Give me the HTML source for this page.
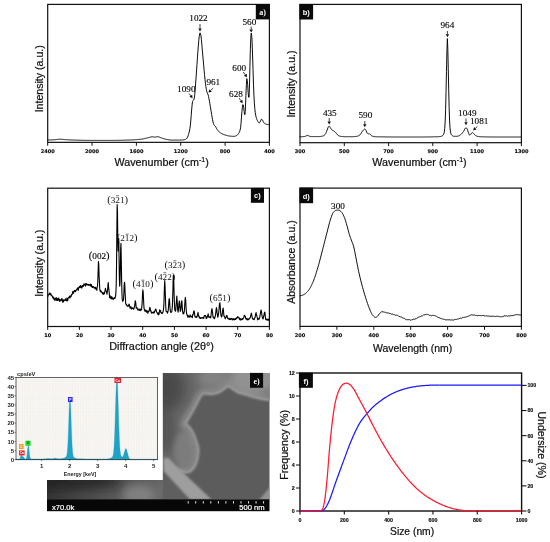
<!DOCTYPE html>
<html lang="en"><head><meta charset="utf-8"><title>Figure</title>
<style>html,body{margin:0;padding:0;background:#fff}svg{display:block}</style></head>
<body>
<svg width="550" height="542" viewBox="0 0 550 542">
<rect width="550" height="542" fill="#fff"/>
<polyline points="47.50,140.00 47.94,140.00 48.39,139.99 48.83,139.98 49.28,139.97 49.72,139.96 50.17,139.94 50.61,139.93 51.06,139.91 51.50,139.89 51.95,139.87 52.39,139.85 52.84,139.82 53.28,139.80 53.73,139.77 54.17,139.75 54.62,139.72 55.06,139.69 55.51,139.66 55.95,139.61 56.40,139.56 56.84,139.50 57.29,139.44 57.73,139.38 58.18,139.32 58.62,139.27 59.07,139.23 59.51,139.20 59.96,139.19 60.40,139.20 60.85,139.22 61.29,139.24 61.74,139.27 62.18,139.32 62.63,139.36 63.07,139.41 63.52,139.46 63.96,139.51 64.41,139.56 64.85,139.60 65.30,139.65 65.74,139.68 66.19,139.71 66.63,139.73 67.08,139.76 67.52,139.78 67.96,139.81 68.41,139.83 68.85,139.86 69.30,139.88 69.74,139.90 70.19,139.92 70.63,139.94 71.08,139.96 71.52,139.98 71.97,140.00 72.41,140.01 72.86,140.03 73.30,140.05 73.75,140.06 74.19,140.08 74.64,140.09 75.08,140.10 75.53,140.12 75.97,140.13 76.42,140.14 76.86,140.15 77.31,140.17 77.75,140.18 78.20,140.19 78.64,140.21 79.09,140.22 79.53,140.23 79.98,140.24 80.42,140.25 80.87,140.27 81.31,140.28 81.76,140.29 82.20,140.30 82.65,140.31 83.09,140.32 83.54,140.33 83.98,140.34 84.43,140.35 84.87,140.35 85.32,140.36 85.76,140.37 86.21,140.38 86.65,140.38 87.10,140.39 87.54,140.39 87.98,140.39 88.43,140.40 88.87,140.40 89.32,140.40 89.76,140.40 90.21,140.40 90.65,140.40 91.10,140.40 91.54,140.40 91.99,140.40 92.43,140.40 92.88,140.40 93.32,140.40 93.77,140.40 94.21,140.40 94.66,140.40 95.10,140.40 95.55,140.40 95.99,140.40 96.44,140.40 96.88,140.40 97.33,140.40 97.77,140.40 98.22,140.40 98.66,140.40 99.11,140.40 99.55,140.40 100.00,140.40 100.44,140.40 100.89,140.40 101.33,140.40 101.78,140.40 102.22,140.40 102.67,140.40 103.11,140.40 103.56,140.40 104.00,140.40 104.45,140.40 104.89,140.40 105.34,140.40 105.78,140.40 106.23,140.40 106.67,140.40 107.12,140.40 107.56,140.40 108.01,140.40 108.45,140.40 108.89,140.40 109.34,140.40 109.78,140.40 110.23,140.40 110.67,140.40 111.12,140.40 111.56,140.40 112.01,140.40 112.45,140.40 112.90,140.39 113.34,140.39 113.79,140.38 114.23,140.38 114.68,140.38 115.12,140.37 115.57,140.36 116.01,140.36 116.46,140.35 116.90,140.34 117.35,140.34 117.79,140.33 118.24,140.32 118.68,140.31 119.13,140.30 119.57,140.29 120.02,140.28 120.46,140.27 120.91,140.26 121.35,140.25 121.80,140.24 122.24,140.23 122.69,140.22 123.13,140.21 123.58,140.20 124.02,140.18 124.47,140.17 124.91,140.16 125.36,140.15 125.80,140.13 126.25,140.12 126.69,140.11 127.14,140.09 127.58,140.08 128.03,140.06 128.47,140.05 128.91,140.04 129.36,140.02 129.80,140.01 130.25,139.99 130.69,139.98 131.14,139.96 131.58,139.94 132.03,139.92 132.47,139.90 132.92,139.87 133.36,139.85 133.81,139.82 134.25,139.80 134.70,139.77 135.14,139.74 135.59,139.70 136.03,139.67 136.48,139.64 136.92,139.60 137.37,139.56 137.81,139.53 138.26,139.49 138.70,139.44 139.15,139.40 139.59,139.36 140.04,139.31 140.48,139.26 140.93,139.22 141.37,139.17 141.82,139.11 142.26,139.06 142.71,138.99 143.15,138.92 143.60,138.83 144.04,138.74 144.49,138.64 144.93,138.53 145.38,138.42 145.82,138.31 146.27,138.20 146.71,138.09 147.16,137.98 147.60,137.87 148.05,137.77 148.49,137.66 148.93,137.54 149.38,137.41 149.82,137.28 150.27,137.15 150.71,137.03 151.16,136.93 151.60,136.85 152.05,136.80 152.49,136.78 152.94,136.81 153.38,136.89 153.83,137.00 154.27,137.10 154.72,137.16 155.16,137.17 155.61,137.10 156.05,136.99 156.50,136.85 156.94,136.74 157.39,136.68 157.83,136.69 158.28,136.77 158.72,136.90 159.17,137.06 159.61,137.24 160.06,137.43 160.50,137.61 160.95,137.77 161.39,137.91 161.84,138.05 162.28,138.20 162.73,138.36 163.17,138.51 163.62,138.65 164.06,138.80 164.51,138.93 164.95,139.05 165.40,139.17 165.84,139.26 166.29,139.35 166.73,139.43 167.18,139.52 167.62,139.60 168.07,139.68 168.51,139.76 168.95,139.83 169.40,139.90 169.84,139.96 170.29,140.01 170.73,140.05 171.18,140.08 171.62,140.10 172.07,140.10 172.51,140.10 172.96,140.10 173.40,140.10 173.85,140.10 174.29,140.10 174.74,140.10 175.18,140.10 175.63,140.10 176.07,140.10 176.52,140.10 176.96,140.10 177.41,140.10 177.85,140.10 178.30,140.10 178.74,140.10 179.19,140.10 179.63,140.10 180.08,140.10 180.52,140.09 180.97,140.08 181.41,140.06 181.86,140.03 182.30,139.99 182.75,139.95 183.19,139.90 183.64,139.85 184.08,139.79 184.53,139.70 184.97,139.56 185.42,139.39 185.86,139.17 186.31,138.88 186.75,138.40 187.20,137.78 187.64,137.01 188.09,135.90 188.53,134.47 188.97,132.84 189.42,131.04 189.86,128.81 190.31,125.84 190.75,121.06 191.20,115.62 191.64,110.01 192.09,105.23 192.53,101.63 192.98,100.65 193.42,100.32 193.87,99.53 194.31,97.92 194.76,94.53 195.20,89.21 195.65,83.06 196.09,77.14 196.54,70.96 196.98,64.36 197.43,57.80 197.87,51.72 198.32,46.17 198.76,40.83 199.21,36.65 199.65,33.85 200.10,32.85 200.54,33.99 200.99,36.00 201.43,39.81 201.88,44.88 202.32,50.18 202.77,55.03 203.21,60.09 203.66,65.23 204.10,70.20 204.55,74.76 204.99,79.11 205.44,83.22 205.88,86.65 206.33,89.27 206.77,91.45 207.22,92.99 207.66,93.80 208.11,94.76 208.55,96.51 208.99,98.78 209.44,101.19 209.88,103.66 210.33,106.38 210.77,109.20 211.22,111.96 211.66,114.55 212.11,117.20 212.55,119.75 213.00,121.91 213.44,123.48 213.89,124.73 214.33,125.44 214.78,125.76 215.22,126.12 215.67,126.77 216.11,127.61 216.56,128.49 217.00,129.22 217.45,129.83 217.89,130.40 218.34,130.95 218.78,131.45 219.23,131.90 219.67,132.29 220.12,132.63 220.56,132.92 221.01,133.19 221.45,133.44 221.90,133.67 222.34,133.88 222.79,134.08 223.23,134.27 223.68,134.44 224.12,134.60 224.57,134.77 225.01,134.92 225.46,135.08 225.90,135.23 226.35,135.37 226.79,135.50 227.24,135.62 227.68,135.73 228.13,135.83 228.57,135.91 229.02,135.97 229.46,136.03 229.90,136.08 230.35,136.13 230.79,136.18 231.24,136.23 231.68,136.27 232.13,136.30 232.57,136.33 233.02,136.35 233.46,136.37 233.91,136.37 234.35,136.35 234.80,136.27 235.24,136.14 235.69,135.96 236.13,135.75 236.58,135.51 237.02,135.25 237.47,134.92 237.91,134.45 238.36,133.87 238.80,133.16 239.25,132.35 239.69,131.33 240.14,129.88 240.58,127.81 241.03,123.38 241.47,117.18 241.92,111.75 242.36,106.94 242.81,104.68 243.25,104.86 243.70,107.16 244.14,111.59 244.59,114.49 245.03,114.60 245.48,107.11 245.92,95.29 246.37,84.89 246.81,78.64 247.26,80.52 247.70,84.80 248.15,92.55 248.59,97.08 249.04,97.39 249.48,86.01 249.92,66.51 250.37,49.49 250.81,37.25 251.26,33.05 251.70,35.68 252.15,42.77 252.59,55.97 253.04,69.59 253.48,84.13 253.93,95.10 254.37,103.12 254.82,108.74 255.26,112.49 255.71,115.29 256.15,117.20 256.60,118.63 257.04,119.75 257.49,120.63 257.93,121.43 258.38,122.18 258.82,122.73 259.27,122.97 259.71,122.64 260.16,121.82 260.60,120.96 261.05,119.82 261.49,119.14 261.94,119.41 262.38,119.99 262.83,120.72 263.27,121.72 263.72,122.56 264.16,123.05 264.61,123.45 265.05,123.76 265.50,123.98 265.94,124.14 266.39,124.26 266.83,124.37 267.28,124.45 267.72,124.52 268.17,124.57 268.61,124.63 269.06,124.66 269.50,124.69" fill="none" stroke="#000" stroke-width="0.95" stroke-linejoin="round" stroke-linecap="round" />
<rect x="47.7" y="4.4" width="221.7" height="137.95" fill="none" stroke="#111" stroke-width="1.2"/>
<line x1="47.7" y1="142.35" x2="47.7" y2="145.75" stroke="#111" stroke-width="1"/>
<text x="47.7" y="152.6" text-anchor="middle" font-family='"DejaVu Sans", "Liberation Sans", sans-serif' font-weight="bold" font-size="5.05" fill="#111" stroke="#111" stroke-width="0.15">2400</text>
<line x1="92.0" y1="142.35" x2="92.0" y2="145.75" stroke="#111" stroke-width="1"/>
<text x="92.0" y="152.6" text-anchor="middle" font-family='"DejaVu Sans", "Liberation Sans", sans-serif' font-weight="bold" font-size="5.05" fill="#111" stroke="#111" stroke-width="0.15">2000</text>
<line x1="136.4" y1="142.35" x2="136.4" y2="145.75" stroke="#111" stroke-width="1"/>
<text x="136.4" y="152.6" text-anchor="middle" font-family='"DejaVu Sans", "Liberation Sans", sans-serif' font-weight="bold" font-size="5.05" fill="#111" stroke="#111" stroke-width="0.15">1600</text>
<line x1="180.7" y1="142.35" x2="180.7" y2="145.75" stroke="#111" stroke-width="1"/>
<text x="180.7" y="152.6" text-anchor="middle" font-family='"DejaVu Sans", "Liberation Sans", sans-serif' font-weight="bold" font-size="5.05" fill="#111" stroke="#111" stroke-width="0.15">1200</text>
<line x1="225.1" y1="142.35" x2="225.1" y2="145.75" stroke="#111" stroke-width="1"/>
<text x="225.1" y="152.6" text-anchor="middle" font-family='"DejaVu Sans", "Liberation Sans", sans-serif' font-weight="bold" font-size="5.05" fill="#111" stroke="#111" stroke-width="0.15">800</text>
<line x1="269.4" y1="142.35" x2="269.4" y2="145.75" stroke="#111" stroke-width="1"/>
<text x="269.4" y="152.6" text-anchor="middle" font-family='"DejaVu Sans", "Liberation Sans", sans-serif' font-weight="bold" font-size="5.05" fill="#111" stroke="#111" stroke-width="0.15">400</text>
<text x="161.6" y="165.6" text-anchor="middle" font-family='"Liberation Sans", sans-serif' font-size="10.75" fill="#111" stroke="#111" stroke-width="0.22">Wavenumber (cm<tspan font-size="7" dy="-3.5">-1</tspan><tspan dy="3.5">)</tspan></text>
<text x="43.4" y="78.8" text-anchor="middle" font-family='"Liberation Sans", sans-serif' font-weight="normal" font-size="10.6" fill="#111" transform="rotate(-90 43.4 78.8)" stroke="#111" stroke-width="0.22">Intensity (a.u.)</text>
<text x="198.5" y="21.3" text-anchor="middle" font-family='"Liberation Serif", serif' font-weight="normal" font-size="9.2" fill="#000" stroke="#000" stroke-width="0.12">1022</text>
<line x1="200.00" y1="24.00" x2="200.00" y2="28.50" stroke="#111" stroke-width="0.8"/>
<polygon points="200.00,31.50 198.30,28.50 201.70,28.50" fill="#111"/>
<text x="249.4" y="24.6" text-anchor="middle" font-family='"Liberation Serif", serif' font-weight="normal" font-size="9.2" fill="#000" stroke="#000" stroke-width="0.12">560</text>
<line x1="251.20" y1="26.50" x2="251.20" y2="29.50" stroke="#111" stroke-width="0.8"/>
<polygon points="251.20,32.50 249.50,29.50 252.90,29.50" fill="#111"/>
<text x="239.2" y="71.0" text-anchor="middle" font-family='"Liberation Serif", serif' font-weight="normal" font-size="9.2" fill="#000" stroke="#000" stroke-width="0.12">600</text>
<line x1="243.30" y1="72.00" x2="245.28" y2="74.84" stroke="#111" stroke-width="0.8"/>
<polygon points="247.00,77.30 243.89,75.81 246.68,73.87" fill="#111"/>
<text x="213.3" y="85.4" text-anchor="middle" font-family='"Liberation Serif", serif' font-weight="normal" font-size="9.2" fill="#000" stroke="#000" stroke-width="0.12">961</text>
<line x1="213.20" y1="88.00" x2="210.64" y2="90.50" stroke="#111" stroke-width="0.8"/>
<polygon points="208.50,92.60 209.45,89.29 211.83,91.72" fill="#111"/>
<text x="186.3" y="91.8" text-anchor="middle" font-family='"Liberation Serif", serif' font-weight="normal" font-size="9.2" fill="#000" stroke="#000" stroke-width="0.12">1090</text>
<line x1="189.00" y1="93.50" x2="190.78" y2="95.82" stroke="#111" stroke-width="0.8"/>
<polygon points="192.60,98.20 189.43,96.85 192.13,94.78" fill="#111"/>
<text x="236.0" y="96.6" text-anchor="middle" font-family='"Liberation Serif", serif' font-weight="normal" font-size="9.2" fill="#000" stroke="#000" stroke-width="0.12">628</text>
<line x1="239.00" y1="98.00" x2="240.96" y2="100.76" stroke="#111" stroke-width="0.8"/>
<polygon points="242.70,103.20 239.58,101.74 242.35,99.77" fill="#111"/>
<rect x="255.8" y="4" width="13.7" height="15.4" fill="#0a0a0a"/>
<text x="262.7" y="14.7" text-anchor="middle" font-family='"Liberation Serif", serif' font-weight="bold" font-size="8" fill="#fff">a)</text>
<polyline points="300.00,136.80 300.44,136.80 300.89,136.79 301.33,136.78 301.78,136.76 302.22,136.73 302.66,136.71 303.11,136.68 303.55,136.64 303.99,136.60 304.44,136.53 304.88,136.40 305.33,136.25 305.77,136.08 306.21,135.91 306.66,135.66 307.10,135.45 307.55,135.41 307.99,135.54 308.43,135.75 308.88,135.96 309.32,136.12 309.77,136.29 310.21,136.46 310.65,136.57 311.10,136.60 311.54,136.60 311.98,136.60 312.43,136.60 312.87,136.60 313.32,136.60 313.76,136.60 314.20,136.60 314.65,136.60 315.09,136.60 315.54,136.60 315.98,136.60 316.42,136.60 316.87,136.60 317.31,136.60 317.76,136.60 318.20,136.60 318.64,136.59 319.09,136.57 319.53,136.54 319.97,136.50 320.42,136.45 320.86,136.39 321.31,136.33 321.75,136.25 322.19,136.17 322.64,136.08 323.08,135.98 323.53,135.81 323.97,135.54 324.41,135.18 324.86,134.74 325.30,134.24 325.75,133.61 326.19,132.58 326.63,131.32 327.08,130.06 327.52,128.93 327.96,127.70 328.41,126.77 328.85,126.50 329.30,126.40 329.74,126.66 330.18,127.46 330.63,128.18 331.07,128.86 331.52,129.49 331.96,129.97 332.40,130.25 332.85,130.44 333.29,130.64 333.74,130.88 334.18,131.19 334.62,131.52 335.07,131.90 335.51,132.31 335.95,132.83 336.40,133.45 336.84,134.08 337.29,134.61 337.73,134.98 338.17,135.31 338.62,135.61 339.06,135.86 339.51,136.06 339.95,136.19 340.39,136.27 340.84,136.34 341.28,136.41 341.73,136.47 342.17,136.53 342.61,136.58 343.06,136.62 343.50,136.65 343.94,136.67 344.39,136.69 344.83,136.70 345.28,136.70 345.72,136.70 346.16,136.70 346.61,136.70 347.05,136.70 347.50,136.70 347.94,136.70 348.38,136.70 348.83,136.70 349.27,136.70 349.72,136.70 350.16,136.70 350.60,136.70 351.05,136.70 351.49,136.70 351.93,136.70 352.38,136.70 352.82,136.69 353.27,136.67 353.71,136.65 354.15,136.62 354.60,136.58 355.04,136.54 355.49,136.50 355.93,136.44 356.37,136.39 356.82,136.33 357.26,136.25 357.71,136.13 358.15,135.95 358.59,135.74 359.04,135.48 359.48,135.18 359.92,134.86 360.37,134.42 360.81,133.76 361.26,133.00 361.70,132.25 362.14,131.60 362.59,130.99 363.03,130.41 363.48,129.92 363.92,129.49 364.36,129.11 364.81,129.01 365.25,129.32 365.70,129.86 366.14,130.68 366.58,131.91 367.03,132.84 367.47,133.40 367.91,133.81 368.36,133.89 368.80,133.79 369.25,133.70 369.69,133.88 370.13,134.33 370.58,134.77 371.02,135.20 371.47,135.64 371.91,135.96 372.35,136.13 372.80,136.28 373.24,136.41 373.69,136.52 374.13,136.61 374.57,136.67 375.02,136.70 375.46,136.72 375.90,136.74 376.35,136.75 376.79,136.77 377.24,136.78 377.68,136.79 378.12,136.80 378.57,136.81 379.01,136.82 379.46,136.83 379.90,136.84 380.34,136.85 380.79,136.85 381.23,136.86 381.68,136.87 382.12,136.87 382.56,136.88 383.01,136.88 383.45,136.88 383.89,136.89 384.34,136.89 384.78,136.90 385.23,136.90 385.67,136.91 386.11,136.91 386.56,136.92 387.00,136.92 387.45,136.92 387.89,136.93 388.33,136.93 388.78,136.94 389.22,136.94 389.67,136.95 390.11,136.95 390.55,136.95 391.00,136.96 391.44,136.96 391.88,136.96 392.33,136.97 392.77,136.97 393.22,136.97 393.66,136.98 394.10,136.98 394.55,136.98 394.99,136.99 395.44,136.99 395.88,136.99 396.32,136.99 396.77,136.99 397.21,137.00 397.66,137.00 398.10,137.00 398.54,137.00 398.99,137.00 399.43,137.00 399.87,137.00 400.32,137.00 400.76,137.00 401.21,137.00 401.65,137.00 402.09,137.00 402.54,137.00 402.98,137.00 403.43,137.00 403.87,137.00 404.31,137.00 404.76,137.00 405.20,137.00 405.65,137.00 406.09,137.00 406.53,137.00 406.98,137.00 407.42,137.00 407.86,137.00 408.31,137.00 408.75,137.00 409.20,137.00 409.64,137.00 410.08,137.00 410.53,137.00 410.97,137.00 411.42,137.00 411.86,137.00 412.30,137.00 412.75,137.00 413.19,137.00 413.64,137.00 414.08,137.00 414.52,137.00 414.97,137.00 415.41,137.00 415.85,137.00 416.30,137.00 416.74,137.00 417.19,137.00 417.63,137.00 418.07,137.00 418.52,137.00 418.96,137.00 419.41,137.00 419.85,137.00 420.29,137.00 420.74,137.00 421.18,137.00 421.63,137.00 422.07,137.00 422.51,136.99 422.96,136.99 423.40,136.99 423.84,136.98 424.29,136.98 424.73,136.98 425.18,136.97 425.62,136.97 426.06,136.96 426.51,136.96 426.95,136.95 427.40,136.95 427.84,136.94 428.28,136.93 428.73,136.93 429.17,136.92 429.62,136.91 430.06,136.90 430.50,136.90 430.95,136.89 431.39,136.88 431.83,136.87 432.28,136.86 432.72,136.85 433.17,136.84 433.61,136.83 434.05,136.82 434.50,136.81 434.94,136.80 435.39,136.79 435.83,136.78 436.27,136.77 436.72,136.75 437.16,136.73 437.61,136.72 438.05,136.69 438.49,136.67 438.94,136.64 439.38,136.61 439.82,136.57 440.27,136.52 440.71,136.47 441.16,136.37 441.60,136.21 442.04,135.98 442.49,135.70 442.93,135.36 443.38,134.81 443.82,133.76 444.26,132.16 444.71,128.57 445.15,121.87 445.60,109.80 446.04,91.71 446.48,71.54 446.93,50.45 447.37,38.58 447.81,48.45 448.26,68.50 448.70,89.24 449.15,107.62 449.59,120.82 450.03,127.85 450.48,131.90 450.92,133.53 451.37,134.61 451.81,135.21 452.25,135.57 452.70,135.88 453.14,136.11 453.59,136.25 454.03,136.30 454.47,136.30 454.92,136.30 455.36,136.30 455.80,136.30 456.25,136.30 456.69,136.30 457.14,136.30 457.58,136.24 458.02,136.13 458.47,135.97 458.91,135.77 459.36,135.55 459.80,135.31 460.24,135.04 460.69,134.65 461.13,134.17 461.58,133.66 462.02,133.18 462.46,132.75 462.91,132.32 463.35,131.83 463.79,131.17 464.24,130.16 464.68,129.19 465.13,128.52 465.57,127.94 466.01,127.70 466.46,127.95 466.90,128.53 467.35,129.29 467.79,130.68 468.23,132.27 468.68,133.40 469.12,134.40 469.57,135.09 470.01,135.14 470.45,134.69 470.90,134.12 471.34,133.55 471.78,132.89 472.23,132.51 472.67,132.63 473.12,133.02 473.56,133.46 474.00,133.92 474.45,134.45 474.89,134.98 475.34,135.39 475.78,135.65 476.22,135.87 476.67,136.06 477.11,136.23 477.56,136.38 478.00,136.49 478.44,136.57 478.89,136.62 479.33,136.65 479.77,136.69 480.22,136.72 480.66,136.75 481.11,136.77 481.55,136.80 481.99,136.82 482.44,136.84 482.88,136.85 483.33,136.87 483.77,136.88 484.21,136.89 484.66,136.90 485.10,136.90 485.55,136.91 485.99,136.91 486.43,136.92 486.88,136.92 487.32,136.93 487.76,136.93 488.21,136.94 488.65,136.94 489.10,136.95 489.54,136.95 489.98,136.95 490.43,136.96 490.87,136.96 491.32,136.97 491.76,136.97 492.20,136.97 492.65,136.98 493.09,136.98 493.54,136.98 493.98,136.98 494.42,136.99 494.87,136.99 495.31,136.99 495.75,136.99 496.20,136.99 496.64,136.99 497.09,137.00 497.53,137.00 497.97,137.00 498.42,137.00 498.86,137.00 499.31,137.00 499.75,137.00 500.19,137.00 500.64,137.00 501.08,137.00 501.53,137.00 501.97,137.00 502.41,137.00 502.86,137.00 503.30,137.00 503.74,137.00 504.19,137.00 504.63,137.00 505.08,137.00 505.52,137.00 505.96,137.00 506.41,137.00 506.85,137.00 507.30,137.00 507.74,137.00 508.18,137.00 508.63,137.00 509.07,137.00 509.52,137.00 509.96,137.00 510.40,137.00 510.85,137.00 511.29,137.00 511.73,137.00 512.18,137.00 512.62,137.00 513.07,137.00 513.51,137.00 513.95,137.00 514.40,137.00 514.84,137.00 515.29,137.00 515.73,137.00 516.17,137.00 516.62,137.00 517.06,137.00 517.51,137.00 517.95,137.00 518.39,137.00 518.84,137.00 519.28,137.00 519.72,137.00 520.17,137.00 520.61,137.00 521.06,137.00 521.50,137.00" fill="none" stroke="#000" stroke-width="0.95" stroke-linejoin="round" stroke-linecap="round" />
<rect x="300" y="4.4" width="221.39999999999998" height="138.29999999999998" fill="none" stroke="#111" stroke-width="1.2"/>
<line x1="300.0" y1="142.7" x2="300.0" y2="146.1" stroke="#111" stroke-width="1"/>
<text x="300.0" y="152.6" text-anchor="middle" font-family='"DejaVu Sans", "Liberation Sans", sans-serif' font-weight="bold" font-size="5.05" fill="#111" stroke="#111" stroke-width="0.15">300</text>
<line x1="344.3" y1="142.7" x2="344.3" y2="146.1" stroke="#111" stroke-width="1"/>
<text x="344.3" y="152.6" text-anchor="middle" font-family='"DejaVu Sans", "Liberation Sans", sans-serif' font-weight="bold" font-size="5.05" fill="#111" stroke="#111" stroke-width="0.15">500</text>
<line x1="388.6" y1="142.7" x2="388.6" y2="146.1" stroke="#111" stroke-width="1"/>
<text x="388.6" y="152.6" text-anchor="middle" font-family='"DejaVu Sans", "Liberation Sans", sans-serif' font-weight="bold" font-size="5.05" fill="#111" stroke="#111" stroke-width="0.15">700</text>
<line x1="432.8" y1="142.7" x2="432.8" y2="146.1" stroke="#111" stroke-width="1"/>
<text x="432.8" y="152.6" text-anchor="middle" font-family='"DejaVu Sans", "Liberation Sans", sans-serif' font-weight="bold" font-size="5.05" fill="#111" stroke="#111" stroke-width="0.15">900</text>
<line x1="477.1" y1="142.7" x2="477.1" y2="146.1" stroke="#111" stroke-width="1"/>
<text x="477.1" y="152.6" text-anchor="middle" font-family='"DejaVu Sans", "Liberation Sans", sans-serif' font-weight="bold" font-size="5.05" fill="#111" stroke="#111" stroke-width="0.15">1100</text>
<line x1="521.4" y1="142.7" x2="521.4" y2="146.1" stroke="#111" stroke-width="1"/>
<text x="521.4" y="152.6" text-anchor="middle" font-family='"DejaVu Sans", "Liberation Sans", sans-serif' font-weight="bold" font-size="5.05" fill="#111" stroke="#111" stroke-width="0.15">1300</text>
<text x="419.5" y="165.5" text-anchor="middle" font-family='"Liberation Sans", sans-serif' font-size="10.75" fill="#111" stroke="#111" stroke-width="0.22">Wavenumber (cm<tspan font-size="7" dy="-3.5">-1</tspan><tspan dy="3.5">)</tspan></text>
<text x="295.4" y="84.0" text-anchor="middle" font-family='"Liberation Sans", sans-serif' font-weight="normal" font-size="10.6" fill="#111" transform="rotate(-90 295.4 84.0)" stroke="#111" stroke-width="0.22">Intensity (a.u.)</text>
<text x="329.8" y="116.0" text-anchor="middle" font-family='"Liberation Serif", serif' font-weight="normal" font-size="9.2" fill="#000" stroke="#000" stroke-width="0.12">435</text>
<line x1="329.20" y1="118.00" x2="329.20" y2="121.60" stroke="#111" stroke-width="0.8"/>
<polygon points="329.20,124.60 327.50,121.60 330.90,121.60" fill="#111"/>
<text x="365.4" y="118.4" text-anchor="middle" font-family='"Liberation Serif", serif' font-weight="normal" font-size="9.2" fill="#000" stroke="#000" stroke-width="0.12">590</text>
<line x1="364.80" y1="121.00" x2="364.80" y2="124.30" stroke="#111" stroke-width="0.8"/>
<polygon points="364.80,127.30 363.10,124.30 366.50,124.30" fill="#111"/>
<text x="447.4" y="28.0" text-anchor="middle" font-family='"Liberation Serif", serif' font-weight="normal" font-size="9.2" fill="#000" stroke="#000" stroke-width="0.12">964</text>
<line x1="447.40" y1="31.00" x2="447.40" y2="34.30" stroke="#111" stroke-width="0.8"/>
<polygon points="447.40,37.30 445.70,34.30 449.10,34.30" fill="#111"/>
<text x="467.3" y="116.4" text-anchor="middle" font-family='"Liberation Serif", serif' font-weight="normal" font-size="9.2" fill="#000" stroke="#000" stroke-width="0.12">1049</text>
<line x1="466.00" y1="118.50" x2="466.00" y2="122.30" stroke="#111" stroke-width="0.8"/>
<polygon points="466.00,125.30 464.30,122.30 467.70,122.30" fill="#111"/>
<text x="479.2" y="124.3" text-anchor="middle" font-family='"Liberation Serif", serif' font-weight="normal" font-size="9.2" fill="#000" stroke="#000" stroke-width="0.12">1081</text>
<line x1="477.40" y1="126.40" x2="475.30" y2="128.36" stroke="#111" stroke-width="0.8"/>
<polygon points="473.10,130.40 474.14,127.11 476.45,129.60" fill="#111"/>
<rect x="299.4" y="4" width="13.7" height="15.5" fill="#0a0a0a"/>
<text x="306.2" y="14.9" text-anchor="middle" font-family='"Liberation Sans", sans-serif' font-weight="bold" font-size="7.5" fill="#fff">b)</text>
<polyline points="47.70,296.71 48.02,294.76 48.33,294.82 48.65,294.87 48.97,293.83 49.29,294.30 49.60,294.23 49.92,292.90 50.24,294.95 50.55,294.64 50.87,293.87 51.19,294.60 51.51,295.67 51.82,295.72 52.14,296.37 52.46,295.99 52.77,297.92 53.09,297.87 53.41,298.25 53.73,297.09 54.04,299.81 54.36,298.85 54.68,298.60 54.99,300.68 55.31,299.16 55.63,298.13 55.95,299.04 56.26,297.59 56.58,300.35 56.90,299.22 57.22,299.01 57.53,300.55 57.85,298.36 58.17,300.20 58.48,298.09 58.80,299.29 59.12,298.87 59.44,301.13 59.75,301.42 60.07,299.68 60.39,300.70 60.70,299.85 61.02,300.52 61.34,299.41 61.66,298.61 61.97,298.54 62.29,300.45 62.61,302.09 62.92,300.39 63.24,299.70 63.56,301.86 63.88,300.39 64.19,300.27 64.51,300.40 64.83,300.03 65.14,299.83 65.46,298.77 65.78,300.45 66.10,299.84 66.41,300.93 66.73,299.42 67.05,297.92 67.36,299.48 67.68,300.98 68.00,298.84 68.32,298.07 68.63,297.44 68.95,297.17 69.27,297.44 69.58,296.16 69.90,298.22 70.22,296.07 70.54,295.97 70.85,296.80 71.17,296.45 71.49,294.43 71.80,294.59 72.12,294.61 72.44,293.34 72.76,291.43 73.07,293.42 73.39,293.29 73.71,292.46 74.02,290.78 74.34,291.15 74.66,290.41 74.98,290.37 75.29,291.66 75.61,291.60 75.93,290.46 76.25,290.09 76.56,289.98 76.88,289.05 77.20,288.76 77.51,287.93 77.83,288.35 78.15,290.52 78.47,288.90 78.78,287.46 79.10,287.14 79.42,286.55 79.73,287.67 80.05,287.51 80.37,285.46 80.69,287.29 81.00,286.04 81.32,287.93 81.64,286.47 81.95,287.89 82.27,285.50 82.59,285.51 82.91,285.93 83.22,286.53 83.54,285.87 83.86,283.89 84.17,285.17 84.49,284.86 84.81,284.27 85.13,283.93 85.44,286.20 85.76,283.97 86.08,283.44 86.39,284.84 86.71,284.29 87.03,284.05 87.35,284.88 87.66,284.64 87.98,284.61 88.30,285.34 88.61,284.86 88.93,284.20 89.25,284.68 89.57,284.76 89.88,285.70 90.20,284.68 90.52,284.16 90.83,286.18 91.15,285.02 91.47,284.64 91.79,287.04 92.10,286.22 92.42,287.56 92.74,286.80 93.05,286.45 93.37,286.54 93.69,287.41 94.01,287.83 94.32,287.50 94.64,288.18 94.96,287.19 95.28,288.76 95.59,287.22 95.91,288.77 96.23,289.62 96.54,289.93 96.86,290.27 97.18,286.55 97.50,286.27 97.81,280.88 98.13,271.21 98.45,261.43 98.76,264.30 99.08,275.23 99.40,281.34 99.72,288.22 100.03,290.95 100.35,290.28 100.67,291.93 100.98,290.87 101.30,291.42 101.62,291.69 101.94,292.82 102.25,292.80 102.57,293.90 102.89,292.46 103.20,293.32 103.52,294.40 103.84,294.14 104.16,292.49 104.47,293.75 104.79,291.53 105.11,290.17 105.42,288.37 105.74,289.69 106.06,291.06 106.38,291.48 106.69,292.83 107.01,294.30 107.33,291.71 107.64,289.36 107.96,284.62 108.28,282.50 108.60,287.04 108.91,290.05 109.23,292.44 109.55,297.58 109.86,295.18 110.18,297.67 110.50,298.20 110.82,297.80 111.13,296.54 111.45,298.88 111.77,297.07 112.08,297.29 112.40,298.19 112.72,299.19 113.04,298.87 113.35,299.30 113.67,298.31 113.99,298.46 114.31,297.58 114.62,297.98 114.94,298.30 115.26,296.95 115.57,296.40 115.89,292.90 116.21,285.19 116.53,266.13 116.84,232.41 117.16,204.48 117.48,211.03 117.79,240.02 118.11,250.93 118.43,242.31 118.75,238.56 119.06,257.95 119.38,278.88 119.70,286.25 120.01,282.52 120.33,268.18 120.65,249.03 120.97,243.39 121.28,259.51 121.60,278.90 121.92,292.42 122.23,299.01 122.55,301.24 122.87,300.94 123.19,300.70 123.50,299.54 123.82,294.47 124.14,285.57 124.45,282.18 124.77,283.79 125.09,292.45 125.41,298.15 125.72,303.77 126.04,304.02 126.36,305.08 126.67,304.56 126.99,305.75 127.31,305.92 127.63,306.10 127.94,306.52 128.26,305.88 128.58,305.77 128.89,304.17 129.21,304.23 129.53,305.99 129.85,307.31 130.16,308.21 130.48,308.14 130.80,306.48 131.12,308.11 131.43,308.97 131.75,308.10 132.07,307.78 132.38,308.44 132.70,307.94 133.02,308.78 133.34,308.36 133.65,309.31 133.97,308.54 134.29,307.09 134.60,306.34 134.92,303.79 135.24,300.68 135.56,301.88 135.87,303.60 136.19,308.10 136.51,308.22 136.82,307.63 137.14,308.08 137.46,309.25 137.78,310.01 138.09,309.53 138.41,309.98 138.73,309.00 139.04,308.90 139.36,310.40 139.68,310.16 140.00,309.83 140.31,310.66 140.63,309.13 140.95,309.33 141.26,309.92 141.58,309.47 141.90,305.79 142.22,301.84 142.53,293.54 142.85,289.71 143.17,291.85 143.48,297.73 143.80,304.93 144.12,308.78 144.44,309.59 144.75,310.27 145.07,311.53 145.39,310.07 145.70,310.09 146.02,310.77 146.34,310.55 146.66,312.28 146.97,311.71 147.29,311.04 147.61,311.26 147.92,313.52 148.24,311.32 148.56,311.13 148.88,311.42 149.19,310.70 149.51,309.04 149.83,307.43 150.15,307.92 150.46,310.56 150.78,311.38 151.10,311.03 151.41,313.10 151.73,312.99 152.05,312.45 152.37,312.51 152.68,312.88 153.00,312.35 153.32,311.97 153.63,313.05 153.95,311.92 154.27,312.95 154.59,311.36 154.90,311.24 155.22,309.81 155.54,310.13 155.85,308.99 156.17,310.24 156.49,311.91 156.81,312.21 157.12,312.79 157.44,313.52 157.76,313.79 158.07,314.37 158.39,312.85 158.71,314.89 159.03,314.21 159.34,312.15 159.66,309.77 159.98,310.45 160.29,311.04 160.61,310.60 160.93,312.84 161.25,312.96 161.56,312.64 161.88,313.47 162.20,313.59 162.51,312.46 162.83,312.58 163.15,311.35 163.47,309.59 163.78,305.99 164.10,298.30 164.42,287.35 164.73,280.45 165.05,286.72 165.37,295.49 165.69,305.05 166.00,310.68 166.32,311.44 166.64,311.41 166.95,311.51 167.27,313.22 167.59,312.32 167.91,312.00 168.22,310.43 168.54,306.27 168.86,301.55 169.18,298.62 169.49,299.38 169.81,304.86 170.13,309.46 170.44,311.33 170.76,312.39 171.08,312.18 171.40,312.19 171.71,312.09 172.03,309.75 172.35,306.65 172.66,298.12 172.98,287.48 173.30,275.56 173.62,275.38 173.93,286.94 174.25,299.06 174.57,306.34 174.88,310.46 175.20,310.27 175.52,311.30 175.84,309.43 176.15,304.30 176.47,300.51 176.79,296.16 177.10,300.07 177.42,305.17 177.74,310.28 178.06,312.17 178.37,310.27 178.69,306.86 179.01,303.01 179.32,300.92 179.64,302.95 179.96,307.68 180.28,311.49 180.59,310.13 180.91,309.58 181.23,304.82 181.54,301.32 181.86,300.83 182.18,305.39 182.50,310.46 182.81,312.18 183.13,313.91 183.45,313.66 183.76,313.55 184.08,312.23 184.40,310.50 184.72,305.07 185.03,299.91 185.35,297.30 185.67,299.48 185.98,306.10 186.30,310.88 186.62,313.72 186.94,314.61 187.25,315.17 187.57,316.22 187.89,317.28 188.21,315.59 188.52,316.55 188.84,316.11 189.16,316.90 189.47,316.76 189.79,317.20 190.11,314.91 190.43,316.29 190.74,316.09 191.06,316.66 191.38,316.30 191.69,316.34 192.01,317.11 192.33,317.72 192.65,314.44 192.96,315.04 193.28,313.80 193.60,311.79 193.91,310.80 194.23,311.24 194.55,313.41 194.87,316.03 195.18,317.17 195.50,316.99 195.82,316.60 196.13,317.23 196.45,317.02 196.77,317.33 197.09,316.52 197.40,314.87 197.72,313.82 198.04,312.30 198.35,314.52 198.67,316.38 198.99,316.13 199.31,317.67 199.62,317.05 199.94,318.41 200.26,318.38 200.57,317.75 200.89,318.53 201.21,317.71 201.53,317.61 201.84,317.68 202.16,317.95 202.48,317.85 202.79,318.14 203.11,317.65 203.43,318.40 203.75,318.33 204.06,316.91 204.38,315.48 204.70,315.82 205.02,315.69 205.33,315.48 205.65,315.79 205.97,317.51 206.28,318.68 206.60,316.77 206.92,318.06 207.24,317.12 207.55,315.79 207.87,315.34 208.19,313.73 208.50,315.51 208.82,317.38 209.14,317.56 209.46,317.30 209.77,316.85 210.09,317.08 210.41,316.50 210.72,317.88 211.04,315.30 211.36,312.36 211.68,309.55 211.99,308.69 212.31,310.78 212.63,312.97 212.94,316.93 213.26,316.69 213.58,317.17 213.90,317.98 214.21,318.68 214.53,318.51 214.85,317.14 215.16,316.81 215.48,315.04 215.80,312.45 216.12,309.28 216.43,307.48 216.75,309.15 217.07,313.04 217.38,314.58 217.70,317.23 218.02,316.56 218.34,315.09 218.65,313.43 218.97,309.79 219.29,305.74 219.60,303.47 219.92,302.76 220.24,306.23 220.56,311.72 220.87,314.47 221.19,316.29 221.51,316.97 221.82,316.20 222.14,315.29 222.46,311.69 222.78,309.47 223.09,308.08 223.41,309.88 223.73,313.96 224.05,316.33 224.36,316.16 224.68,317.21 225.00,318.27 225.31,318.80 225.63,317.70 225.95,317.58 226.27,315.90 226.58,316.94 226.90,315.32 227.22,316.57 227.53,317.74 227.85,318.70 228.17,318.84 228.49,318.41 228.80,319.11 229.12,318.76 229.44,319.51 229.75,318.34 230.07,318.48 230.39,319.20 230.71,319.58 231.02,318.93 231.34,318.45 231.66,318.80 231.97,318.59 232.29,320.00 232.61,319.43 232.93,319.65 233.24,319.10 233.56,318.60 233.88,319.62 234.19,319.90 234.51,319.27 234.83,318.92 235.15,319.55 235.46,318.69 235.78,319.31 236.10,318.34 236.41,317.94 236.73,318.39 237.05,317.63 237.37,317.97 237.68,316.56 238.00,317.16 238.32,317.14 238.63,317.28 238.95,317.69 239.27,319.16 239.59,318.30 239.90,319.67 240.22,319.86 240.54,318.89 240.85,320.02 241.17,319.20 241.49,319.72 241.81,318.93 242.12,319.59 242.44,318.45 242.76,319.27 243.08,318.44 243.39,318.17 243.71,317.79 244.03,316.39 244.34,315.23 244.66,315.47 244.98,316.28 245.30,316.20 245.61,318.31 245.93,318.99 246.25,318.48 246.56,319.27 246.88,318.35 247.20,319.98 247.52,319.03 247.83,319.13 248.15,319.86 248.47,319.08 248.78,319.48 249.10,318.48 249.42,318.63 249.74,317.87 250.05,317.91 250.37,317.47 250.69,315.45 251.00,314.45 251.32,313.09 251.64,314.25 251.96,316.09 252.27,318.01 252.59,318.69 252.91,318.86 253.22,319.38 253.54,318.98 253.86,319.03 254.18,319.67 254.49,318.27 254.81,317.97 255.13,317.46 255.44,314.80 255.76,313.57 256.08,312.56 256.40,315.29 256.71,314.75 257.03,316.91 257.35,317.88 257.66,319.84 257.98,319.30 258.30,319.01 258.62,318.42 258.93,319.28 259.25,318.93 259.57,317.97 259.88,316.41 260.20,314.65 260.52,312.73 260.84,310.49 261.15,310.01 261.47,311.79 261.79,313.58 262.11,316.81 262.42,317.50 262.74,318.66 263.06,318.92 263.37,317.74 263.69,316.21 264.01,315.25 264.33,312.92 264.64,312.13 264.96,312.58 265.28,316.53 265.59,318.58 265.91,319.73 266.23,319.11 266.55,319.30 266.86,319.51 267.18,320.30 267.50,319.23 267.81,319.87 268.13,319.45 268.45,320.15 268.77,319.16 269.08,320.27 269.40,319.80" fill="none" stroke="#000" stroke-width="1.1" stroke-linejoin="round" stroke-linecap="round" />
<rect x="47.7" y="188.2" width="221.7" height="138.3" fill="none" stroke="#111" stroke-width="1.2"/>
<line x1="47.7" y1="326.5" x2="47.7" y2="329.9" stroke="#111" stroke-width="1"/>
<text x="47.7" y="336.6" text-anchor="middle" font-family='"DejaVu Sans", "Liberation Sans", sans-serif' font-weight="bold" font-size="5.05" fill="#111" stroke="#111" stroke-width="0.15">10</text>
<line x1="79.4" y1="326.5" x2="79.4" y2="329.9" stroke="#111" stroke-width="1"/>
<text x="79.4" y="336.6" text-anchor="middle" font-family='"DejaVu Sans", "Liberation Sans", sans-serif' font-weight="bold" font-size="5.05" fill="#111" stroke="#111" stroke-width="0.15">20</text>
<line x1="111.0" y1="326.5" x2="111.0" y2="329.9" stroke="#111" stroke-width="1"/>
<text x="111.0" y="336.6" text-anchor="middle" font-family='"DejaVu Sans", "Liberation Sans", sans-serif' font-weight="bold" font-size="5.05" fill="#111" stroke="#111" stroke-width="0.15">30</text>
<line x1="142.7" y1="326.5" x2="142.7" y2="329.9" stroke="#111" stroke-width="1"/>
<text x="142.7" y="336.6" text-anchor="middle" font-family='"DejaVu Sans", "Liberation Sans", sans-serif' font-weight="bold" font-size="5.05" fill="#111" stroke="#111" stroke-width="0.15">40</text>
<line x1="174.4" y1="326.5" x2="174.4" y2="329.9" stroke="#111" stroke-width="1"/>
<text x="174.4" y="336.6" text-anchor="middle" font-family='"DejaVu Sans", "Liberation Sans", sans-serif' font-weight="bold" font-size="5.05" fill="#111" stroke="#111" stroke-width="0.15">50</text>
<line x1="206.1" y1="326.5" x2="206.1" y2="329.9" stroke="#111" stroke-width="1"/>
<text x="206.1" y="336.6" text-anchor="middle" font-family='"DejaVu Sans", "Liberation Sans", sans-serif' font-weight="bold" font-size="5.05" fill="#111" stroke="#111" stroke-width="0.15">60</text>
<line x1="237.7" y1="326.5" x2="237.7" y2="329.9" stroke="#111" stroke-width="1"/>
<text x="237.7" y="336.6" text-anchor="middle" font-family='"DejaVu Sans", "Liberation Sans", sans-serif' font-weight="bold" font-size="5.05" fill="#111" stroke="#111" stroke-width="0.15">70</text>
<line x1="269.4" y1="326.5" x2="269.4" y2="329.9" stroke="#111" stroke-width="1"/>
<text x="269.4" y="336.6" text-anchor="middle" font-family='"DejaVu Sans", "Liberation Sans", sans-serif' font-weight="bold" font-size="5.05" fill="#111" stroke="#111" stroke-width="0.15">80</text>
<text x="161.6" y="350.0" text-anchor="middle" font-family='"Liberation Sans", sans-serif' font-weight="normal" font-size="10.85" fill="#111" stroke="#111" stroke-width="0.22">Diffraction angle (2θ°)</text>
<text x="43.4" y="263.2" text-anchor="middle" font-family='"Liberation Sans", sans-serif' font-weight="normal" font-size="10.6" fill="#111" transform="rotate(-90 43.4 263.2)" stroke="#111" stroke-width="0.22">Intensity (a.u.)</text>
<text x="117.6" y="202.7" text-anchor="middle" font-family='"Liberation Serif", serif' font-size="9.2" fill="#111"><tspan font-size="10.579999999999998">(</tspan>321<tspan font-size="10.579999999999998">)</tspan></text>
<line x1="116.10" y1="195.70" x2="119.10" y2="195.70" stroke="#111" stroke-width="0.6"/>
<text x="127.1" y="241.2" text-anchor="middle" font-family='"Liberation Serif", serif' font-size="9.2" fill="#111"><tspan font-size="10.579999999999998">(</tspan>212<tspan font-size="10.579999999999998">)</tspan></text>
<line x1="125.60" y1="234.20" x2="128.60" y2="234.20" stroke="#111" stroke-width="0.6"/>
<text x="99.2" y="259.4" text-anchor="middle" font-family='"Liberation Serif", serif' font-weight="normal" font-size="9.2" fill="#000" stroke="#000" stroke-width="0.12"><tspan font-size="10.5">(</tspan>002<tspan font-size="10.5">)</tspan></text>
<text x="143.0" y="287.2" text-anchor="middle" font-family='"Liberation Serif", serif' font-size="9.2" fill="#111"><tspan font-size="10.579999999999998">(</tspan>410<tspan font-size="10.579999999999998">)</tspan></text>
<line x1="141.50" y1="280.20" x2="144.50" y2="280.20" stroke="#111" stroke-width="0.6"/>
<text x="164.9" y="279.8" text-anchor="middle" font-family='"Liberation Serif", serif' font-size="9.2" fill="#111"><tspan font-size="10.579999999999998">(</tspan>422<tspan font-size="10.579999999999998">)</tspan></text>
<line x1="163.40" y1="272.80" x2="166.40" y2="272.80" stroke="#111" stroke-width="0.6"/>
<text x="174.9" y="267.8" text-anchor="middle" font-family='"Liberation Serif", serif' font-size="9.2" fill="#111"><tspan font-size="10.579999999999998">(</tspan>323<tspan font-size="10.579999999999998">)</tspan></text>
<line x1="173.40" y1="260.80" x2="176.40" y2="260.80" stroke="#111" stroke-width="0.6"/>
<text x="220.0" y="301.3" text-anchor="middle" font-family='"Liberation Serif", serif' font-size="9.2" fill="#111"><tspan font-size="10.579999999999998">(</tspan>651<tspan font-size="10.579999999999998">)</tspan></text>
<line x1="218.50" y1="294.30" x2="221.50" y2="294.30" stroke="#111" stroke-width="0.6"/>
<rect x="250.9" y="187.9" width="13.1" height="14.9" fill="#0a0a0a"/>
<text x="257.4" y="198.3" text-anchor="middle" font-family='"Liberation Sans", sans-serif' font-weight="bold" font-size="7.5" fill="#fff">c)</text>
<polyline points="300.00,295.80 300.49,295.75 300.99,295.65 301.48,295.52 301.97,295.37 302.47,295.20 302.96,295.02 303.45,294.80 303.95,294.55 304.44,294.24 304.93,293.90 305.43,293.51 305.92,293.09 306.41,292.64 306.91,292.16 307.40,291.65 307.89,291.12 308.39,290.54 308.88,289.89 309.37,289.15 309.87,288.34 310.36,287.47 310.85,286.54 311.35,285.56 311.84,284.54 312.33,283.48 312.83,282.39 313.32,281.26 313.81,280.03 314.31,278.70 314.80,277.30 315.29,275.83 315.79,274.29 316.28,272.71 316.77,271.10 317.27,269.46 317.76,267.81 318.25,266.14 318.75,264.41 319.24,262.61 319.73,260.76 320.23,258.87 320.72,256.95 321.21,255.00 321.71,253.06 322.20,251.11 322.69,249.19 323.19,247.29 323.68,245.38 324.17,243.46 324.67,241.54 325.16,239.61 325.65,237.69 326.15,235.78 326.64,233.88 327.13,231.99 327.63,230.05 328.12,228.07 328.61,226.08 329.11,224.14 329.60,222.30 330.09,220.58 330.59,219.04 331.08,217.60 331.57,216.18 332.07,214.86 332.56,213.70 333.05,212.77 333.55,212.14 334.04,211.61 334.53,211.12 335.03,210.71 335.52,210.40 336.01,210.23 336.51,210.20 337.00,210.20 337.49,210.20 337.99,210.20 338.48,210.20 338.97,210.21 339.47,210.36 339.96,210.65 340.45,211.05 340.95,211.52 341.44,212.03 341.93,212.59 342.43,213.32 342.92,214.21 343.41,215.23 343.91,216.34 344.40,217.51 344.89,218.76 345.39,220.22 345.88,221.84 346.37,223.57 346.87,225.32 347.36,227.06 347.85,228.91 348.35,230.83 348.84,232.71 349.33,234.46 349.83,235.98 350.32,237.36 350.81,238.67 351.31,239.97 351.80,241.29 352.29,242.54 352.79,243.82 353.28,245.27 353.77,247.01 354.27,249.16 354.76,251.59 355.25,254.16 355.74,256.73 356.24,259.18 356.73,261.69 357.22,264.24 357.72,266.79 358.21,269.27 358.70,271.65 359.20,273.88 359.69,276.01 360.18,278.07 360.68,280.07 361.17,282.01 361.66,283.90 362.16,285.74 362.65,287.55 363.14,289.32 363.64,291.06 364.13,292.76 364.62,294.43 365.12,296.06 365.61,297.64 366.10,299.19 366.60,300.69 367.09,302.16 367.58,303.61 368.08,305.03 368.57,306.40 369.06,307.71 369.56,308.95 370.05,310.12 370.54,311.27 371.04,312.40 371.53,313.44 372.02,314.34 372.52,315.02 373.01,315.58 373.50,316.11 374.00,316.59 374.49,316.99 374.98,317.26 375.48,317.39 375.97,317.34 376.46,317.10 376.96,316.74 377.45,316.34 377.94,315.80 378.44,315.03 378.93,314.23 379.42,313.57 379.92,313.10 380.41,312.97 380.90,312.32 381.40,311.96 381.89,311.47 382.38,311.76 382.88,311.80 383.37,311.94 383.86,311.94 384.36,312.15 384.85,312.18 385.34,312.13 385.84,312.64 386.33,312.76 386.82,313.03 387.32,312.87 387.81,312.92 388.30,313.03 388.80,312.99 389.29,313.58 389.78,313.34 390.28,313.46 390.77,313.77 391.26,314.20 391.76,314.10 392.25,314.00 392.74,314.19 393.24,314.56 393.73,314.55 394.22,314.57 394.72,314.80 395.21,315.12 395.70,315.48 396.20,315.05 396.69,315.32 397.18,315.45 397.68,315.33 398.17,315.79 398.66,315.97 399.16,316.56 399.65,316.55 400.14,316.49 400.64,317.12 401.13,317.16 401.62,317.12 402.12,317.54 402.61,317.74 403.10,317.88 403.60,318.25 404.09,318.06 404.58,318.64 405.08,319.10 405.57,319.30 406.06,319.56 406.56,319.76 407.05,319.99 407.54,319.66 408.04,320.10 408.53,319.66 409.02,319.89 409.52,319.63 410.01,320.13 410.50,320.13 411.00,319.79 411.49,320.07 411.98,319.55 412.48,319.62 412.97,319.53 413.46,319.21 413.96,319.34 414.45,319.43 414.94,318.70 415.44,318.83 415.93,318.41 416.42,318.52 416.92,318.06 417.41,317.87 417.90,317.65 418.40,317.38 418.89,316.88 419.38,317.17 419.88,316.46 420.37,316.54 420.86,316.40 421.36,315.94 421.85,315.93 422.34,315.93 422.84,315.55 423.33,315.23 423.82,314.70 424.32,314.88 424.81,314.78 425.30,314.64 425.80,314.43 426.29,314.57 426.78,314.32 427.28,314.38 427.77,314.58 428.26,314.45 428.76,314.76 429.25,315.44 429.74,315.44 430.24,315.23 430.73,315.57 431.22,315.70 431.72,315.78 432.21,315.53 432.70,315.35 433.20,315.28 433.69,315.52 434.18,315.55 434.68,315.56 435.17,315.82 435.66,315.99 436.16,316.39 436.65,316.35 437.14,316.80 437.64,317.13 438.13,317.34 438.62,317.37 439.12,318.03 439.61,317.92 440.10,318.35 440.60,318.33 441.09,318.31 441.58,318.80 442.08,318.95 442.57,319.01 443.06,319.20 443.56,319.15 444.05,319.24 444.54,319.44 445.04,319.91 445.53,319.79 446.02,319.61 446.52,319.86 447.01,319.71 447.50,319.75 448.00,320.02 448.49,319.80 448.98,319.61 449.48,319.78 449.97,319.98 450.46,320.00 450.96,320.21 451.45,319.87 451.94,320.13 452.44,320.07 452.93,319.94 453.42,320.07 453.92,319.95 454.41,319.63 454.90,319.89 455.40,319.39 455.89,319.53 456.38,319.42 456.88,319.40 457.37,319.09 457.86,319.09 458.36,318.93 458.85,318.98 459.34,318.49 459.84,318.48 460.33,318.25 460.82,317.90 461.32,318.47 461.81,317.83 462.30,317.46 462.80,317.88 463.29,317.34 463.78,317.52 464.28,317.53 464.77,317.17 465.26,317.13 465.76,317.01 466.25,316.98 466.74,316.58 467.23,316.50 467.73,316.46 468.22,316.38 468.71,316.00 469.21,315.91 469.70,315.51 470.19,315.17 470.69,315.15 471.18,314.72 471.67,314.86 472.17,314.82 472.66,315.06 473.15,315.16 473.65,315.00 474.14,315.06 474.63,314.97 475.13,315.30 475.62,315.44 476.11,315.53 476.61,315.35 477.10,315.86 477.59,315.72 478.09,315.48 478.58,315.41 479.07,315.44 479.57,315.53 480.06,315.50 480.55,315.59 481.05,315.64 481.54,315.75 482.03,315.71 482.53,315.48 483.02,315.57 483.51,315.44 484.01,315.43 484.50,315.92 484.99,315.55 485.49,316.05 485.98,315.69 486.47,315.87 486.97,316.09 487.46,315.97 487.95,316.10 488.45,316.05 488.94,316.05 489.43,316.15 489.93,316.08 490.42,316.50 490.91,316.19 491.41,316.54 491.90,315.75 492.39,316.24 492.89,316.34 493.38,316.19 493.87,316.45 494.37,316.37 494.86,316.21 495.35,316.34 495.85,316.78 496.34,316.33 496.83,316.35 497.33,316.24 497.82,316.39 498.31,316.20 498.81,316.47 499.30,317.00 499.79,316.79 500.29,316.71 500.78,316.77 501.27,316.86 501.77,316.56 502.26,316.75 502.75,316.49 503.25,316.24 503.74,316.45 504.23,315.65 504.73,315.92 505.22,316.04 505.71,315.80 506.21,315.92 506.70,315.81 507.19,315.79 507.69,316.39 508.18,316.00 508.67,315.86 509.17,316.08 509.66,315.78 510.15,315.95 510.65,315.81 511.14,315.99 511.63,315.38 512.13,315.70 512.62,315.50 513.11,315.18 513.61,315.48 514.10,315.02 514.59,315.28 515.09,314.85 515.58,314.69 516.07,314.52 516.57,314.69 517.06,314.25 517.55,314.67 518.05,314.62 518.54,314.83 519.03,314.79 519.53,314.89 520.02,314.57 520.51,314.97 521.01,314.95 521.50,314.36" fill="none" stroke="#000" stroke-width="0.95" stroke-linejoin="round" stroke-linecap="round" />
<rect x="300" y="188.1" width="221.39999999999998" height="138.29999999999998" fill="none" stroke="#111" stroke-width="1.2"/>
<line x1="300.0" y1="326.4" x2="300.0" y2="329.79999999999995" stroke="#111" stroke-width="1"/>
<text x="300.0" y="336.6" text-anchor="middle" font-family='"DejaVu Sans", "Liberation Sans", sans-serif' font-weight="bold" font-size="5.05" fill="#111" stroke="#111" stroke-width="0.15">200</text>
<line x1="336.9" y1="326.4" x2="336.9" y2="329.79999999999995" stroke="#111" stroke-width="1"/>
<text x="336.9" y="336.6" text-anchor="middle" font-family='"DejaVu Sans", "Liberation Sans", sans-serif' font-weight="bold" font-size="5.05" fill="#111" stroke="#111" stroke-width="0.15">300</text>
<line x1="373.8" y1="326.4" x2="373.8" y2="329.79999999999995" stroke="#111" stroke-width="1"/>
<text x="373.8" y="336.6" text-anchor="middle" font-family='"DejaVu Sans", "Liberation Sans", sans-serif' font-weight="bold" font-size="5.05" fill="#111" stroke="#111" stroke-width="0.15">400</text>
<line x1="410.7" y1="326.4" x2="410.7" y2="329.79999999999995" stroke="#111" stroke-width="1"/>
<text x="410.7" y="336.6" text-anchor="middle" font-family='"DejaVu Sans", "Liberation Sans", sans-serif' font-weight="bold" font-size="5.05" fill="#111" stroke="#111" stroke-width="0.15">500</text>
<line x1="447.6" y1="326.4" x2="447.6" y2="329.79999999999995" stroke="#111" stroke-width="1"/>
<text x="447.6" y="336.6" text-anchor="middle" font-family='"DejaVu Sans", "Liberation Sans", sans-serif' font-weight="bold" font-size="5.05" fill="#111" stroke="#111" stroke-width="0.15">600</text>
<line x1="484.5" y1="326.4" x2="484.5" y2="329.79999999999995" stroke="#111" stroke-width="1"/>
<text x="484.5" y="336.6" text-anchor="middle" font-family='"DejaVu Sans", "Liberation Sans", sans-serif' font-weight="bold" font-size="5.05" fill="#111" stroke="#111" stroke-width="0.15">700</text>
<line x1="521.4" y1="326.4" x2="521.4" y2="329.79999999999995" stroke="#111" stroke-width="1"/>
<text x="521.4" y="336.6" text-anchor="middle" font-family='"DejaVu Sans", "Liberation Sans", sans-serif' font-weight="bold" font-size="5.05" fill="#111" stroke="#111" stroke-width="0.15">800</text>
<text x="412.6" y="351.8" text-anchor="middle" font-family='"Liberation Sans", sans-serif' font-weight="normal" font-size="10.45" fill="#111" stroke="#111" stroke-width="0.22">Wavelength (nm)</text>
<text x="295.4" y="262.0" text-anchor="middle" font-family='"Liberation Sans", sans-serif' font-weight="normal" font-size="10.5" fill="#111" transform="rotate(-90 295.4 262.0)" stroke="#111" stroke-width="0.22">Absorbance (a.u.)</text>
<text x="338.0" y="208.5" text-anchor="middle" font-family='"Liberation Serif", serif' font-weight="normal" font-size="9.2" fill="#000" stroke="#000" stroke-width="0.12">300</text>
<rect x="299.4" y="187.6" width="13.7" height="15.6" fill="#0a0a0a"/>
<text x="306.2" y="199.1" text-anchor="middle" font-family='"Liberation Sans", sans-serif' font-weight="bold" font-size="7.5" fill="#fff">d)</text>
<defs>
<filter id="bl1" x="-20%" y="-20%" width="140%" height="140%"><feGaussianBlur stdDeviation="1.3"/></filter>
<filter id="bl2" x="-30%" y="-30%" width="160%" height="160%"><feGaussianBlur stdDeviation="4"/></filter>
<filter id="bl3" x="-20%" y="-20%" width="140%" height="140%"><feGaussianBlur stdDeviation="0.8"/></filter>
<filter id="bl4" x="-30%" y="-30%" width="160%" height="160%"><feGaussianBlur stdDeviation="2.6"/></filter>
<filter id="bl5" x="-40%" y="-40%" width="180%" height="180%"><feGaussianBlur stdDeviation="7"/></filter>
<clipPath id="semclip"><rect x="47" y="373" width="222.5" height="126.5"/></clipPath>
<clipPath id="lightclip"><path d="M 272,400.5 C 266,400.5 262,399.5 257.8,398.5 C 254,397.6 251,396.6 247.6,395.5 C 243.5,394.2 240.5,393.8 237.4,392.4 C 235,391.3 233.8,390.4 232.3,389.3 C 231,388.3 229.6,387 228.2,386.7 C 226.8,387 225.6,388.3 224.2,389.3 C 222.6,390.6 221,392 219,392.8 C 216.5,393.8 213.5,394.4 210.9,394.4 C 208.5,394.4 206,393.4 203.8,394 C 201.8,394.8 200.8,396.6 199.7,398.5 C 198.2,401.2 197,404 195.6,406.7 C 194,409.8 192.2,412.8 190.5,415.8 C 189,418.4 187.4,421 186,423.4 C 187.8,424.6 189.2,426.2 190.5,428 C 192.2,430.2 193.6,432.6 194.6,435.2 C 195.3,436.8 195.8,438.4 196.2,440 C 197.6,444 198.8,447 198.7,450.5 C 198.7,456 197.6,461.5 195.2,466 C 193.2,469.6 190.2,472.6 186.8,472.8 C 183.6,472.9 180.6,471.4 178,469.4 L 214,503 L 40,503 L 40,360 L 285,360 L 285,400 Z"/></clipPath>
<linearGradient id="gl" x1="0" y1="0" x2="1" y2="0.25"><stop offset="0" stop-color="#262626"/><stop offset="0.55" stop-color="#4a4a4a"/><stop offset="1" stop-color="#6a6a6a"/></linearGradient>
</defs>
<g clip-path="url(#semclip)">
<rect x="40" y="365" width="240" height="140" fill="#5c5c5c"/>
<path d="M 272,400.5 C 266,400.5 262,399.5 257.8,398.5 C 254,397.6 251,396.6 247.6,395.5 C 243.5,394.2 240.5,393.8 237.4,392.4 C 235,391.3 233.8,390.4 232.3,389.3 C 231,388.3 229.6,387 228.2,386.7 C 226.8,387 225.6,388.3 224.2,389.3 C 222.6,390.6 221,392 219,392.8 C 216.5,393.8 213.5,394.4 210.9,394.4 C 208.5,394.4 206,393.4 203.8,394 C 201.8,394.8 200.8,396.6 199.7,398.5 C 198.2,401.2 197,404 195.6,406.7 C 194,409.8 192.2,412.8 190.5,415.8 C 189,418.4 187.4,421 186,423.4 C 187.8,424.6 189.2,426.2 190.5,428 C 192.2,430.2 193.6,432.6 194.6,435.2 C 195.3,436.8 195.8,438.4 196.2,440 C 197.6,444 198.8,447 198.7,450.5 C 198.7,456 197.6,461.5 195.2,466 C 193.2,469.6 190.2,472.6 186.8,472.8 C 183.6,472.9 180.6,471.4 178,469.4 L 214,503 L 40,503 L 40,360 L 285,360 L 285,400 Z" fill="#6c6c6c" filter="url(#bl1)"/>
<g clip-path="url(#lightclip)">
<path d="M 272,400.5 C 266,400.5 262,399.5 257.8,398.5 C 254,397.6 251,396.6 247.6,395.5 C 243.5,394.2 240.5,393.8 237.4,392.4 C 235,391.3 233.8,390.4 232.3,389.3 C 231,388.3 229.6,387 228.2,386.7 C 226.8,387 225.6,388.3 224.2,389.3 C 222.6,390.6 221,392 219,392.8 C 216.5,393.8 213.5,394.4 210.9,394.4 C 208.5,394.4 206,393.4 203.8,394 C 201.8,394.8 200.8,396.6 199.7,398.5 C 198.2,401.2 197,404 195.6,406.7 C 194,409.8 192.2,412.8 190.5,415.8 C 189,418.4 187.4,421 186,423.4 C 187.8,424.6 189.2,426.2 190.5,428 C 192.2,430.2 193.6,432.6 194.6,435.2 C 195.3,436.8 195.8,438.4 196.2,440 C 197.6,444 198.8,447 198.7,450.5 C 198.7,456 197.6,461.5 195.2,466 C 193.2,469.6 190.2,472.6 186.8,472.8 C 183.6,472.9 180.6,471.4 178,469.4" fill="none" stroke="#8e8e8e" stroke-width="11" filter="url(#bl4)" opacity="0.85"/>
<ellipse cx="254" cy="378" rx="26" ry="16" fill="#9c9c9c" opacity="0.8" filter="url(#bl2)"/>
<ellipse cx="214" cy="378" rx="16" ry="11" fill="#8c8c8c" opacity="0.7" filter="url(#bl2)"/>
<ellipse cx="160" cy="388" rx="26" ry="26" fill="#3e3e3e" opacity="0.75" filter="url(#bl5)"/>
<ellipse cx="166" cy="432" rx="10" ry="22" fill="#4a4a4a" opacity="0.6" filter="url(#bl2)"/>
<ellipse cx="185" cy="449" rx="11" ry="19" fill="#868686" opacity="0.65" filter="url(#bl4)"/>
</g>
<path d="M 272,400.5 C 266,400.5 262,399.5 257.8,398.5 C 254,397.6 251,396.6 247.6,395.5 C 243.5,394.2 240.5,393.8 237.4,392.4 C 235,391.3 233.8,390.4 232.3,389.3 C 231,388.3 229.6,387 228.2,386.7 C 226.8,387 225.6,388.3 224.2,389.3 C 222.6,390.6 221,392 219,392.8 C 216.5,393.8 213.5,394.4 210.9,394.4 C 208.5,394.4 206,393.4 203.8,394 C 201.8,394.8 200.8,396.6 199.7,398.5 C 198.2,401.2 197,404 195.6,406.7 C 194,409.8 192.2,412.8 190.5,415.8 C 189,418.4 187.4,421 186,423.4 C 187.8,424.6 189.2,426.2 190.5,428 C 192.2,430.2 193.6,432.6 194.6,435.2 C 195.3,436.8 195.8,438.4 196.2,440 C 197.6,444 198.8,447 198.7,450.5 C 198.7,456 197.6,461.5 195.2,466 C 193.2,469.6 190.2,472.6 186.8,472.8 C 183.6,472.9 180.6,471.4 178,469.4" fill="none" stroke="#a6a6a6" stroke-width="1.6" filter="url(#bl3)" opacity="0.9"/>
<path d="M 160,462 L 180,474 L 204,501 L 160,501 Z" fill="#5e5e5e" filter="url(#bl1)"/>
<path d="M 163.5,458.5 L 168.5,458 L 181,470.8 L 211.5,499.5 L 190,499.5 L 163.5,471 Z" fill="#9e9e9e" filter="url(#bl3)"/>
<rect x="47" y="479" width="116" height="22" fill="url(#gl)"/>
<ellipse cx="138" cy="495" rx="16" ry="11" fill="#868686" opacity="0.8" filter="url(#bl2)"/>
<ellipse cx="80" cy="481" rx="40" ry="7" fill="#202020" opacity="0.7" filter="url(#bl2)"/>
<path d="M 272,484.5 L 258.5,501 L 272,501 Z" fill="#929292" filter="url(#bl3)"/>
</g>
<rect x="47" y="499.3" width="222.5" height="11.9" fill="#070707"/>
<text x="52.0" y="509.6" text-anchor="start" font-family='"Liberation Sans", sans-serif' font-weight="normal" font-size="7.6" fill="#fff" stroke="#fff" stroke-width="0.22">x70.0k</text>
<text x="264.6" y="509.8" text-anchor="end" font-family='"Liberation Sans", sans-serif' font-weight="normal" font-size="7.6" fill="#fff" stroke="#fff" stroke-width="0.22">500 nm</text>
<rect x="187.75" y="501.2" width="0.9" height="2.3" fill="#fff"/>
<rect x="195.29" y="501.2" width="0.9" height="2.3" fill="#fff"/>
<rect x="202.83" y="501.2" width="0.9" height="2.3" fill="#fff"/>
<rect x="210.37" y="501.2" width="0.9" height="2.3" fill="#fff"/>
<rect x="217.91" y="501.2" width="0.9" height="2.3" fill="#fff"/>
<rect x="225.45" y="501.2" width="0.9" height="2.3" fill="#fff"/>
<rect x="232.99" y="501.2" width="0.9" height="2.3" fill="#fff"/>
<rect x="240.53" y="501.2" width="0.9" height="2.3" fill="#fff"/>
<rect x="248.07" y="501.2" width="0.9" height="2.3" fill="#fff"/>
<rect x="255.61" y="501.2" width="0.9" height="2.3" fill="#fff"/>
<rect x="263.15" y="501.2" width="0.9" height="2.3" fill="#fff"/>
<rect x="250" y="372.9" width="13.1" height="14.9" fill="#0a0a0a"/>
<text x="256.6" y="383.8" text-anchor="middle" font-family='"Liberation Serif", serif' font-weight="bold" font-size="8" fill="#fff">e)</text>
<rect x="0" y="362" width="162.8" height="118" fill="#fff"/>
<rect x="16" y="377.5" width="141.6" height="82.19999999999999" fill="#fbf9f6"/>
<line x1="16" y1="457.87" x2="157.6" y2="457.87" stroke="#ebe6df" stroke-width="0.3"/>
<line x1="16" y1="456.05" x2="157.6" y2="456.05" stroke="#ebe6df" stroke-width="0.3"/>
<line x1="16" y1="454.22" x2="157.6" y2="454.22" stroke="#ebe6df" stroke-width="0.3"/>
<line x1="16" y1="452.39" x2="157.6" y2="452.39" stroke="#ebe6df" stroke-width="0.3"/>
<line x1="16" y1="450.57" x2="157.6" y2="450.57" stroke="#ebe6df" stroke-width="0.3"/>
<line x1="16" y1="448.74" x2="157.6" y2="448.74" stroke="#ebe6df" stroke-width="0.3"/>
<line x1="16" y1="446.91" x2="157.6" y2="446.91" stroke="#ebe6df" stroke-width="0.3"/>
<line x1="16" y1="445.09" x2="157.6" y2="445.09" stroke="#ebe6df" stroke-width="0.3"/>
<line x1="16" y1="443.26" x2="157.6" y2="443.26" stroke="#ebe6df" stroke-width="0.3"/>
<line x1="16" y1="441.43" x2="157.6" y2="441.43" stroke="#ebe6df" stroke-width="0.3"/>
<line x1="16" y1="439.61" x2="157.6" y2="439.61" stroke="#ebe6df" stroke-width="0.3"/>
<line x1="16" y1="437.78" x2="157.6" y2="437.78" stroke="#ebe6df" stroke-width="0.3"/>
<line x1="16" y1="435.95" x2="157.6" y2="435.95" stroke="#ebe6df" stroke-width="0.3"/>
<line x1="16" y1="434.13" x2="157.6" y2="434.13" stroke="#ebe6df" stroke-width="0.3"/>
<line x1="16" y1="432.30" x2="157.6" y2="432.30" stroke="#ebe6df" stroke-width="0.3"/>
<line x1="16" y1="430.47" x2="157.6" y2="430.47" stroke="#ebe6df" stroke-width="0.3"/>
<line x1="16" y1="428.65" x2="157.6" y2="428.65" stroke="#ebe6df" stroke-width="0.3"/>
<line x1="16" y1="426.82" x2="157.6" y2="426.82" stroke="#ebe6df" stroke-width="0.3"/>
<line x1="16" y1="424.99" x2="157.6" y2="424.99" stroke="#ebe6df" stroke-width="0.3"/>
<line x1="16" y1="423.17" x2="157.6" y2="423.17" stroke="#ebe6df" stroke-width="0.3"/>
<line x1="16" y1="421.34" x2="157.6" y2="421.34" stroke="#ebe6df" stroke-width="0.3"/>
<line x1="16" y1="419.51" x2="157.6" y2="419.51" stroke="#ebe6df" stroke-width="0.3"/>
<line x1="16" y1="417.69" x2="157.6" y2="417.69" stroke="#ebe6df" stroke-width="0.3"/>
<line x1="16" y1="415.86" x2="157.6" y2="415.86" stroke="#ebe6df" stroke-width="0.3"/>
<line x1="16" y1="414.03" x2="157.6" y2="414.03" stroke="#ebe6df" stroke-width="0.3"/>
<line x1="16" y1="412.21" x2="157.6" y2="412.21" stroke="#ebe6df" stroke-width="0.3"/>
<line x1="16" y1="410.38" x2="157.6" y2="410.38" stroke="#ebe6df" stroke-width="0.3"/>
<line x1="16" y1="408.55" x2="157.6" y2="408.55" stroke="#ebe6df" stroke-width="0.3"/>
<line x1="16" y1="406.73" x2="157.6" y2="406.73" stroke="#ebe6df" stroke-width="0.3"/>
<line x1="16" y1="404.90" x2="157.6" y2="404.90" stroke="#ebe6df" stroke-width="0.3"/>
<line x1="16" y1="403.07" x2="157.6" y2="403.07" stroke="#ebe6df" stroke-width="0.3"/>
<line x1="16" y1="401.25" x2="157.6" y2="401.25" stroke="#ebe6df" stroke-width="0.3"/>
<line x1="16" y1="399.42" x2="157.6" y2="399.42" stroke="#ebe6df" stroke-width="0.3"/>
<line x1="16" y1="397.59" x2="157.6" y2="397.59" stroke="#ebe6df" stroke-width="0.3"/>
<line x1="16" y1="395.77" x2="157.6" y2="395.77" stroke="#ebe6df" stroke-width="0.3"/>
<line x1="16" y1="393.94" x2="157.6" y2="393.94" stroke="#ebe6df" stroke-width="0.3"/>
<line x1="16" y1="392.11" x2="157.6" y2="392.11" stroke="#ebe6df" stroke-width="0.3"/>
<line x1="16" y1="390.29" x2="157.6" y2="390.29" stroke="#ebe6df" stroke-width="0.3"/>
<line x1="16" y1="388.46" x2="157.6" y2="388.46" stroke="#ebe6df" stroke-width="0.3"/>
<line x1="16" y1="386.63" x2="157.6" y2="386.63" stroke="#ebe6df" stroke-width="0.3"/>
<line x1="16" y1="384.81" x2="157.6" y2="384.81" stroke="#ebe6df" stroke-width="0.3"/>
<line x1="16" y1="382.98" x2="157.6" y2="382.98" stroke="#ebe6df" stroke-width="0.3"/>
<line x1="16" y1="381.15" x2="157.6" y2="381.15" stroke="#ebe6df" stroke-width="0.3"/>
<line x1="16" y1="379.33" x2="157.6" y2="379.33" stroke="#ebe6df" stroke-width="0.3"/>
<line x1="16.40" y1="377.5" x2="16.40" y2="459.7" stroke="#ebe6df" stroke-width="0.3"/>
<line x1="19.20" y1="377.5" x2="19.20" y2="459.7" stroke="#ebe6df" stroke-width="0.3"/>
<line x1="22.00" y1="377.5" x2="22.00" y2="459.7" stroke="#ebe6df" stroke-width="0.3"/>
<line x1="24.80" y1="377.5" x2="24.80" y2="459.7" stroke="#ebe6df" stroke-width="0.3"/>
<line x1="27.60" y1="377.5" x2="27.60" y2="459.7" stroke="#ebe6df" stroke-width="0.3"/>
<line x1="30.40" y1="377.5" x2="30.40" y2="459.7" stroke="#ebe6df" stroke-width="0.3"/>
<line x1="33.20" y1="377.5" x2="33.20" y2="459.7" stroke="#ebe6df" stroke-width="0.3"/>
<line x1="36.00" y1="377.5" x2="36.00" y2="459.7" stroke="#ebe6df" stroke-width="0.3"/>
<line x1="38.80" y1="377.5" x2="38.80" y2="459.7" stroke="#ebe6df" stroke-width="0.3"/>
<line x1="41.60" y1="377.5" x2="41.60" y2="459.7" stroke="#ebe6df" stroke-width="0.3"/>
<line x1="44.40" y1="377.5" x2="44.40" y2="459.7" stroke="#ebe6df" stroke-width="0.3"/>
<line x1="47.20" y1="377.5" x2="47.20" y2="459.7" stroke="#ebe6df" stroke-width="0.3"/>
<line x1="50.00" y1="377.5" x2="50.00" y2="459.7" stroke="#ebe6df" stroke-width="0.3"/>
<line x1="52.80" y1="377.5" x2="52.80" y2="459.7" stroke="#ebe6df" stroke-width="0.3"/>
<line x1="55.60" y1="377.5" x2="55.60" y2="459.7" stroke="#ebe6df" stroke-width="0.3"/>
<line x1="58.40" y1="377.5" x2="58.40" y2="459.7" stroke="#ebe6df" stroke-width="0.3"/>
<line x1="61.20" y1="377.5" x2="61.20" y2="459.7" stroke="#ebe6df" stroke-width="0.3"/>
<line x1="64.00" y1="377.5" x2="64.00" y2="459.7" stroke="#ebe6df" stroke-width="0.3"/>
<line x1="66.80" y1="377.5" x2="66.80" y2="459.7" stroke="#ebe6df" stroke-width="0.3"/>
<line x1="69.60" y1="377.5" x2="69.60" y2="459.7" stroke="#ebe6df" stroke-width="0.3"/>
<line x1="72.40" y1="377.5" x2="72.40" y2="459.7" stroke="#ebe6df" stroke-width="0.3"/>
<line x1="75.20" y1="377.5" x2="75.20" y2="459.7" stroke="#ebe6df" stroke-width="0.3"/>
<line x1="78.00" y1="377.5" x2="78.00" y2="459.7" stroke="#ebe6df" stroke-width="0.3"/>
<line x1="80.80" y1="377.5" x2="80.80" y2="459.7" stroke="#ebe6df" stroke-width="0.3"/>
<line x1="83.60" y1="377.5" x2="83.60" y2="459.7" stroke="#ebe6df" stroke-width="0.3"/>
<line x1="86.40" y1="377.5" x2="86.40" y2="459.7" stroke="#ebe6df" stroke-width="0.3"/>
<line x1="89.20" y1="377.5" x2="89.20" y2="459.7" stroke="#ebe6df" stroke-width="0.3"/>
<line x1="92.00" y1="377.5" x2="92.00" y2="459.7" stroke="#ebe6df" stroke-width="0.3"/>
<line x1="94.80" y1="377.5" x2="94.80" y2="459.7" stroke="#ebe6df" stroke-width="0.3"/>
<line x1="97.60" y1="377.5" x2="97.60" y2="459.7" stroke="#ebe6df" stroke-width="0.3"/>
<line x1="100.40" y1="377.5" x2="100.40" y2="459.7" stroke="#ebe6df" stroke-width="0.3"/>
<line x1="103.20" y1="377.5" x2="103.20" y2="459.7" stroke="#ebe6df" stroke-width="0.3"/>
<line x1="106.00" y1="377.5" x2="106.00" y2="459.7" stroke="#ebe6df" stroke-width="0.3"/>
<line x1="108.80" y1="377.5" x2="108.80" y2="459.7" stroke="#ebe6df" stroke-width="0.3"/>
<line x1="111.60" y1="377.5" x2="111.60" y2="459.7" stroke="#ebe6df" stroke-width="0.3"/>
<line x1="114.40" y1="377.5" x2="114.40" y2="459.7" stroke="#ebe6df" stroke-width="0.3"/>
<line x1="117.20" y1="377.5" x2="117.20" y2="459.7" stroke="#ebe6df" stroke-width="0.3"/>
<line x1="120.00" y1="377.5" x2="120.00" y2="459.7" stroke="#ebe6df" stroke-width="0.3"/>
<line x1="122.80" y1="377.5" x2="122.80" y2="459.7" stroke="#ebe6df" stroke-width="0.3"/>
<line x1="125.60" y1="377.5" x2="125.60" y2="459.7" stroke="#ebe6df" stroke-width="0.3"/>
<line x1="128.40" y1="377.5" x2="128.40" y2="459.7" stroke="#ebe6df" stroke-width="0.3"/>
<line x1="131.20" y1="377.5" x2="131.20" y2="459.7" stroke="#ebe6df" stroke-width="0.3"/>
<line x1="134.00" y1="377.5" x2="134.00" y2="459.7" stroke="#ebe6df" stroke-width="0.3"/>
<line x1="136.80" y1="377.5" x2="136.80" y2="459.7" stroke="#ebe6df" stroke-width="0.3"/>
<line x1="139.60" y1="377.5" x2="139.60" y2="459.7" stroke="#ebe6df" stroke-width="0.3"/>
<line x1="142.40" y1="377.5" x2="142.40" y2="459.7" stroke="#ebe6df" stroke-width="0.3"/>
<line x1="145.20" y1="377.5" x2="145.20" y2="459.7" stroke="#ebe6df" stroke-width="0.3"/>
<line x1="148.00" y1="377.5" x2="148.00" y2="459.7" stroke="#ebe6df" stroke-width="0.3"/>
<line x1="150.80" y1="377.5" x2="150.80" y2="459.7" stroke="#ebe6df" stroke-width="0.3"/>
<line x1="153.60" y1="377.5" x2="153.60" y2="459.7" stroke="#ebe6df" stroke-width="0.3"/>
<line x1="156.40" y1="377.5" x2="156.40" y2="459.7" stroke="#ebe6df" stroke-width="0.3"/>
<path d="M 16.12,459.7 L 16.12,459.12 L 16.36,459.12 L 16.59,459.12 L 16.83,459.11 L 17.06,459.11 L 17.30,459.11 L 17.53,459.11 L 17.77,459.11 L 18.00,459.11 L 18.24,459.10 L 18.48,459.10 L 18.71,459.10 L 18.95,459.08 L 19.18,459.05 L 19.42,458.98 L 19.65,458.83 L 19.89,458.56 L 20.13,458.13 L 20.36,457.51 L 20.60,456.75 L 20.83,455.97 L 21.07,455.32 L 21.30,454.98 L 21.54,454.99 L 21.77,455.31 L 22.01,455.78 L 22.25,456.22 L 22.48,456.52 L 22.72,456.64 L 22.95,456.68 L 23.19,456.71 L 23.42,456.85 L 23.66,457.11 L 23.89,457.47 L 24.13,457.87 L 24.37,458.24 L 24.60,458.55 L 24.84,458.76 L 25.07,458.89 L 25.31,458.95 L 25.54,458.95 L 25.78,458.88 L 26.01,458.69 L 26.25,458.33 L 26.49,457.69 L 26.72,456.66 L 26.96,455.16 L 27.19,453.21 L 27.43,450.93 L 27.66,448.60 L 27.90,446.63 L 28.14,445.40 L 28.37,445.19 L 28.61,446.03 L 28.84,447.74 L 29.08,449.97 L 29.31,452.31 L 29.55,454.41 L 29.78,456.09 L 30.02,457.30 L 30.26,458.08 L 30.49,458.54 L 30.73,458.79 L 30.96,458.91 L 31.20,458.96 L 31.43,458.98 L 31.67,458.99 L 31.90,458.99 L 32.14,458.99 L 32.38,458.98 L 32.61,458.98 L 32.85,458.98 L 33.08,458.98 L 33.32,458.98 L 33.55,458.97 L 33.79,458.97 L 34.03,458.97 L 34.26,458.97 L 34.50,458.96 L 34.73,458.96 L 34.97,458.96 L 35.20,458.96 L 35.44,458.96 L 35.67,458.95 L 35.91,458.95 L 36.15,458.95 L 36.38,458.95 L 36.62,458.94 L 36.85,458.94 L 37.09,458.94 L 37.32,458.94 L 37.56,458.94 L 37.79,458.93 L 38.03,458.93 L 38.27,458.93 L 38.50,458.93 L 38.74,458.93 L 38.97,458.92 L 39.21,458.92 L 39.44,458.92 L 39.68,458.92 L 39.91,458.91 L 40.15,458.91 L 40.39,458.91 L 40.62,458.91 L 40.86,458.91 L 41.09,458.90 L 41.33,458.90 L 41.56,458.90 L 41.80,458.90 L 42.04,458.90 L 42.27,458.89 L 42.51,458.89 L 42.74,458.89 L 42.98,458.89 L 43.21,458.89 L 43.45,458.88 L 43.68,458.88 L 43.92,458.88 L 44.16,458.88 L 44.39,458.87 L 44.63,458.87 L 44.86,458.86 L 45.10,458.85 L 45.33,458.84 L 45.57,458.82 L 45.80,458.80 L 46.04,458.78 L 46.28,458.75 L 46.51,458.71 L 46.75,458.67 L 46.98,458.62 L 47.22,458.57 L 47.45,458.53 L 47.69,458.48 L 47.93,458.44 L 48.16,458.41 L 48.40,458.39 L 48.63,458.39 L 48.87,458.39 L 49.10,458.41 L 49.34,458.44 L 49.57,458.48 L 49.81,458.52 L 50.05,458.57 L 50.28,458.61 L 50.52,458.65 L 50.75,458.68 L 50.99,458.71 L 51.22,458.73 L 51.46,458.74 L 51.69,458.75 L 51.93,458.74 L 52.17,458.73 L 52.40,458.70 L 52.64,458.67 L 52.87,458.62 L 53.11,458.57 L 53.34,458.51 L 53.58,458.44 L 53.81,458.38 L 54.05,458.31 L 54.29,458.26 L 54.52,458.21 L 54.76,458.18 L 54.99,458.17 L 55.23,458.17 L 55.46,458.19 L 55.70,458.23 L 55.94,458.28 L 56.17,458.34 L 56.41,458.40 L 56.64,458.47 L 56.88,458.53 L 57.11,458.58 L 57.35,458.63 L 57.58,458.67 L 57.82,458.70 L 58.06,458.72 L 58.29,458.74 L 58.53,458.75 L 58.76,458.76 L 59.00,458.76 L 59.23,458.76 L 59.47,458.76 L 59.70,458.75 L 59.94,458.74 L 60.18,458.73 L 60.41,458.72 L 60.65,458.71 L 60.88,458.69 L 61.12,458.67 L 61.35,458.64 L 61.59,458.62 L 61.82,458.59 L 62.06,458.55 L 62.30,458.51 L 62.53,458.47 L 62.77,458.42 L 63.00,458.36 L 63.24,458.30 L 63.47,458.23 L 63.71,458.16 L 63.95,458.08 L 64.18,457.99 L 64.42,457.90 L 64.65,457.80 L 64.89,457.69 L 65.12,457.57 L 65.36,457.44 L 65.59,457.29 L 65.83,457.11 L 66.07,456.86 L 66.30,456.52 L 66.54,456.01 L 66.77,455.25 L 67.01,454.11 L 67.24,452.44 L 67.48,450.06 L 67.71,446.82 L 67.95,442.58 L 68.19,437.30 L 68.42,431.08 L 68.66,424.16 L 68.89,416.97 L 69.13,410.06 L 69.36,404.08 L 69.60,399.64 L 69.84,397.23 L 70.07,397.14 L 70.31,399.38 L 70.54,403.70 L 70.78,409.60 L 71.01,416.49 L 71.25,423.72 L 71.48,430.72 L 71.72,437.05 L 71.96,442.45 L 72.19,446.81 L 72.43,450.17 L 72.66,452.63 L 72.90,454.37 L 73.13,455.56 L 73.37,456.36 L 73.60,456.88 L 73.84,457.23 L 74.08,457.48 L 74.31,457.66 L 74.55,457.80 L 74.78,457.91 L 75.02,458.01 L 75.25,458.11 L 75.49,458.19 L 75.72,458.27 L 75.96,458.33 L 76.20,458.40 L 76.43,458.46 L 76.67,458.51 L 76.90,458.55 L 77.14,458.59 L 77.37,458.63 L 77.61,458.66 L 77.85,458.69 L 78.08,458.71 L 78.32,458.74 L 78.55,458.75 L 78.79,458.77 L 79.02,458.78 L 79.26,458.80 L 79.49,458.81 L 79.73,458.82 L 79.97,458.82 L 80.20,458.83 L 80.44,458.84 L 80.67,458.84 L 80.91,458.84 L 81.14,458.85 L 81.38,458.85 L 81.61,458.86 L 81.85,458.86 L 82.09,458.86 L 82.32,458.86 L 82.56,458.87 L 82.79,458.87 L 83.03,458.87 L 83.26,458.87 L 83.50,458.87 L 83.74,458.88 L 83.97,458.88 L 84.21,458.88 L 84.44,458.88 L 84.68,458.88 L 84.91,458.89 L 85.15,458.89 L 85.38,458.89 L 85.62,458.89 L 85.86,458.89 L 86.09,458.90 L 86.33,458.90 L 86.56,458.90 L 86.80,458.90 L 87.03,458.91 L 87.27,458.91 L 87.50,458.91 L 87.74,458.91 L 87.98,458.91 L 88.21,458.92 L 88.45,458.92 L 88.68,458.92 L 88.92,458.92 L 89.15,458.92 L 89.39,458.93 L 89.62,458.93 L 89.86,458.93 L 90.10,458.93 L 90.33,458.94 L 90.57,458.94 L 90.80,458.94 L 91.04,458.94 L 91.27,458.94 L 91.51,458.95 L 91.75,458.95 L 91.98,458.95 L 92.22,458.95 L 92.45,458.95 L 92.69,458.96 L 92.92,458.96 L 93.16,458.96 L 93.39,458.96 L 93.63,458.97 L 93.87,458.97 L 94.10,458.97 L 94.34,458.97 L 94.57,458.97 L 94.81,458.98 L 95.04,458.98 L 95.28,458.98 L 95.51,458.98 L 95.75,458.99 L 95.99,458.99 L 96.22,458.99 L 96.46,458.99 L 96.69,458.99 L 96.93,459.00 L 97.16,459.00 L 97.40,459.00 L 97.64,459.00 L 97.87,459.00 L 98.11,459.01 L 98.34,459.01 L 98.58,459.01 L 98.81,459.01 L 99.05,459.02 L 99.28,459.02 L 99.52,459.02 L 99.76,459.02 L 99.99,459.02 L 100.23,459.03 L 100.46,459.03 L 100.70,459.03 L 100.93,459.03 L 101.17,459.03 L 101.40,459.03 L 101.64,459.04 L 101.88,459.04 L 102.11,459.04 L 102.35,459.04 L 102.58,459.04 L 102.82,459.04 L 103.05,459.04 L 103.29,459.04 L 103.52,459.04 L 103.76,459.04 L 104.00,459.04 L 104.23,459.03 L 104.47,459.03 L 104.70,459.03 L 104.94,459.02 L 105.17,459.01 L 105.41,459.01 L 105.65,459.00 L 105.88,458.99 L 106.12,458.98 L 106.35,458.96 L 106.59,458.94 L 106.82,458.93 L 107.06,458.91 L 107.29,458.88 L 107.53,458.86 L 107.77,458.83 L 108.00,458.79 L 108.24,458.76 L 108.47,458.71 L 108.71,458.67 L 108.94,458.62 L 109.18,458.57 L 109.41,458.51 L 109.65,458.45 L 109.89,458.38 L 110.12,458.31 L 110.36,458.23 L 110.59,458.15 L 110.83,458.07 L 111.06,457.97 L 111.30,457.86 L 111.54,457.74 L 111.77,457.60 L 112.01,457.42 L 112.24,457.19 L 112.48,456.86 L 112.71,456.40 L 112.95,455.74 L 113.18,454.80 L 113.42,453.46 L 113.66,451.61 L 113.89,449.11 L 114.13,445.81 L 114.36,441.61 L 114.60,436.44 L 114.83,430.29 L 115.07,423.25 L 115.30,415.53 L 115.54,407.44 L 115.78,399.41 L 116.01,391.91 L 116.25,385.48 L 116.48,380.58 L 116.72,377.61 L 116.95,376.80 L 117.19,378.22 L 117.42,381.75 L 117.66,387.11 L 117.90,393.88 L 118.13,401.56 L 118.37,409.64 L 118.60,417.64 L 118.84,425.18 L 119.07,431.97 L 119.31,437.83 L 119.55,442.71 L 119.78,446.63 L 120.02,449.68 L 120.25,451.97 L 120.49,453.65 L 120.72,454.85 L 120.96,455.68 L 121.19,456.24 L 121.43,456.61 L 121.67,456.83 L 121.90,456.95 L 122.14,456.96 L 122.37,456.89 L 122.61,456.73 L 122.84,456.47 L 123.08,456.11 L 123.31,455.64 L 123.55,455.05 L 123.79,454.36 L 124.02,453.58 L 124.26,452.74 L 124.49,451.86 L 124.73,451.01 L 124.96,450.21 L 125.20,449.53 L 125.43,449.01 L 125.67,448.68 L 125.91,448.58 L 126.14,448.71 L 126.38,449.07 L 126.61,449.64 L 126.85,450.38 L 127.08,451.24 L 127.32,452.18 L 127.56,453.15 L 127.79,454.11 L 128.03,455.01 L 128.26,455.83 L 128.50,456.55 L 128.73,457.16 L 128.97,457.67 L 129.20,458.07 L 129.44,458.39 L 129.68,458.63 L 129.91,458.81 L 130.15,458.93 L 130.38,459.02 L 130.62,459.09 L 130.85,459.13 L 131.09,459.16 L 131.32,459.17 L 131.56,459.19 L 131.80,459.19 L 132.03,459.20 L 132.27,459.20 L 132.50,459.21 L 132.74,459.21 L 132.97,459.21 L 133.21,459.21 L 133.45,459.21 L 133.68,459.21 L 133.92,459.21 L 134.15,459.21 L 134.39,459.22 L 134.62,459.22 L 134.86,459.22 L 135.09,459.22 L 135.33,459.22 L 135.57,459.22 L 135.80,459.22 L 136.04,459.22 L 136.27,459.22 L 136.51,459.22 L 136.74,459.22 L 136.98,459.22 L 137.21,459.22 L 137.45,459.22 L 137.69,459.22 L 137.92,459.22 L 138.16,459.22 L 138.39,459.22 L 138.63,459.22 L 138.86,459.22 L 139.10,459.22 L 139.33,459.23 L 139.57,459.23 L 139.81,459.23 L 140.04,459.23 L 140.28,459.23 L 140.51,459.23 L 140.75,459.23 L 140.98,459.23 L 141.22,459.23 L 141.46,459.23 L 141.69,459.23 L 141.93,459.23 L 142.16,459.23 L 142.40,459.23 L 142.63,459.23 L 142.87,459.23 L 143.10,459.23 L 143.34,459.23 L 143.58,459.23 L 143.81,459.23 L 144.05,459.23 L 144.28,459.23 L 144.52,459.23 L 144.75,459.23 L 144.99,459.23 L 145.22,459.23 L 145.46,459.23 L 145.70,459.23 L 145.93,459.23 L 146.17,459.23 L 146.40,459.23 L 146.64,459.23 L 146.87,459.23 L 147.11,459.23 L 147.35,459.23 L 147.58,459.23 L 147.82,459.23 L 148.05,459.24 L 148.29,459.24 L 148.52,459.24 L 148.76,459.24 L 148.99,459.24 L 149.23,459.24 L 149.47,459.24 L 149.70,459.24 L 149.94,459.24 L 150.17,459.24 L 150.41,459.24 L 150.64,459.24 L 150.88,459.24 L 151.11,459.24 L 151.35,459.24 L 151.59,459.24 L 151.82,459.24 L 152.06,459.24 L 152.29,459.24 L 152.53,459.24 L 152.76,459.24 L 153.00,459.24 L 153.23,459.24 L 153.47,459.24 L 153.71,459.24 L 153.94,459.24 L 154.18,459.24 L 154.41,459.24 L 154.65,459.24 L 154.88,459.24 L 155.12,459.24 L 155.36,459.24 L 155.59,459.24 L 155.83,459.24 L 156.06,459.24 L 156.30,459.24 L 156.53,459.24 L 156.77,459.24 L 157.00,459.24 L 157.24,459.24 L 157.24,459.7 Z" fill="#1ea3c8" stroke="#1b93b8" stroke-width="0.3"/>
<rect x="16" y="377.5" width="141.6" height="82.19999999999999" fill="none" stroke="#222" stroke-width="0.7"/>
<line x1="14.5" y1="459.70" x2="16" y2="459.70" stroke="#222" stroke-width="0.5"/>
<text x="14.2" y="461.8" text-anchor="end" font-family='"Liberation Sans", sans-serif' font-weight="bold" font-size="6.0" fill="#222" >0</text>
<line x1="14.5" y1="450.57" x2="16" y2="450.57" stroke="#222" stroke-width="0.5"/>
<text x="14.2" y="452.7" text-anchor="end" font-family='"Liberation Sans", sans-serif' font-weight="bold" font-size="6.0" fill="#222" >5</text>
<line x1="14.5" y1="441.43" x2="16" y2="441.43" stroke="#222" stroke-width="0.5"/>
<text x="14.2" y="443.5" text-anchor="end" font-family='"Liberation Sans", sans-serif' font-weight="bold" font-size="6.0" fill="#222" >10</text>
<line x1="14.5" y1="432.30" x2="16" y2="432.30" stroke="#222" stroke-width="0.5"/>
<text x="14.2" y="434.4" text-anchor="end" font-family='"Liberation Sans", sans-serif' font-weight="bold" font-size="6.0" fill="#222" >15</text>
<line x1="14.5" y1="423.17" x2="16" y2="423.17" stroke="#222" stroke-width="0.5"/>
<text x="14.2" y="425.3" text-anchor="end" font-family='"Liberation Sans", sans-serif' font-weight="bold" font-size="6.0" fill="#222" >20</text>
<line x1="14.5" y1="414.03" x2="16" y2="414.03" stroke="#222" stroke-width="0.5"/>
<text x="14.2" y="416.1" text-anchor="end" font-family='"Liberation Sans", sans-serif' font-weight="bold" font-size="6.0" fill="#222" >25</text>
<line x1="14.5" y1="404.90" x2="16" y2="404.90" stroke="#222" stroke-width="0.5"/>
<text x="14.2" y="407.0" text-anchor="end" font-family='"Liberation Sans", sans-serif' font-weight="bold" font-size="6.0" fill="#222" >30</text>
<line x1="14.5" y1="395.77" x2="16" y2="395.77" stroke="#222" stroke-width="0.5"/>
<text x="14.2" y="397.9" text-anchor="end" font-family='"Liberation Sans", sans-serif' font-weight="bold" font-size="6.0" fill="#222" >35</text>
<line x1="14.5" y1="386.63" x2="16" y2="386.63" stroke="#222" stroke-width="0.5"/>
<text x="14.2" y="388.7" text-anchor="end" font-family='"Liberation Sans", sans-serif' font-weight="bold" font-size="6.0" fill="#222" >40</text>
<line x1="14.5" y1="377.50" x2="16" y2="377.50" stroke="#222" stroke-width="0.5"/>
<text x="14.2" y="379.6" text-anchor="end" font-family='"Liberation Sans", sans-serif' font-weight="bold" font-size="6.0" fill="#222" >45</text>
<text x="41.6" y="467.7" text-anchor="middle" font-family='"Liberation Sans", sans-serif' font-weight="bold" font-size="6.0" fill="#222" >1</text>
<line x1="41.60" y1="459.7" x2="41.60" y2="461.2" stroke="#222" stroke-width="0.5"/>
<text x="69.6" y="467.7" text-anchor="middle" font-family='"Liberation Sans", sans-serif' font-weight="bold" font-size="6.0" fill="#222" >2</text>
<line x1="69.60" y1="459.7" x2="69.60" y2="461.2" stroke="#222" stroke-width="0.5"/>
<text x="97.6" y="467.7" text-anchor="middle" font-family='"Liberation Sans", sans-serif' font-weight="bold" font-size="6.0" fill="#222" >3</text>
<line x1="97.60" y1="459.7" x2="97.60" y2="461.2" stroke="#222" stroke-width="0.5"/>
<text x="125.6" y="467.7" text-anchor="middle" font-family='"Liberation Sans", sans-serif' font-weight="bold" font-size="6.0" fill="#222" >4</text>
<line x1="125.60" y1="459.7" x2="125.60" y2="461.2" stroke="#222" stroke-width="0.5"/>
<text x="153.6" y="467.7" text-anchor="middle" font-family='"Liberation Sans", sans-serif' font-weight="bold" font-size="6.0" fill="#222" >5</text>
<line x1="153.60" y1="459.7" x2="153.60" y2="461.2" stroke="#222" stroke-width="0.5"/>
<text x="17.0" y="375.7" text-anchor="start" font-family='"Liberation Sans", sans-serif' font-weight="bold" font-size="5.7" fill="#222" >cps/eV</text>
<text x="80.0" y="475.9" text-anchor="middle" font-family='"Liberation Sans", sans-serif' font-weight="bold" font-size="5.3" fill="#222" >Energy [keV]</text>
<rect x="19" y="444" width="4.6" height="5" fill="#f39a2b"/>
<text x="21.30" y="447.70" text-anchor="middle" font-family='"Liberation Sans", sans-serif' font-size="3.4" font-weight="bold" fill="#fff">C</text>
<rect x="19" y="450.4" width="5.6" height="5" fill="#e8202a"/>
<text x="21.80" y="454.10" text-anchor="middle" font-family='"Liberation Sans", sans-serif' font-size="3.4" font-weight="bold" fill="#fff">Ca</text>
<rect x="25.4" y="440.7" width="5.2" height="5.1" fill="#22dd22"/>
<text x="28.00" y="444.45" text-anchor="middle" font-family='"Liberation Sans", sans-serif' font-size="3.4" font-weight="bold" fill="#064">O</text>
<rect x="68" y="397" width="4.6" height="5" fill="#2a2ae8"/>
<text x="70.30" y="400.70" text-anchor="middle" font-family='"Liberation Sans", sans-serif' font-size="3.4" font-weight="bold" fill="#fff">P</text>
<rect x="114.5" y="377.9" width="6.5" height="5.1" fill="#e8202a"/>
<text x="117.75" y="381.65" text-anchor="middle" font-family='"Liberation Sans", sans-serif' font-size="3.4" font-weight="bold" fill="#fff">Ca</text>
<rect x="300" y="373.0" width="221.60000000000002" height="138.0" fill="none" stroke="#111" stroke-width="1.4"/>
<polyline points="300.00,511.00 300.74,511.00 301.48,511.00 302.22,511.00 302.96,511.00 303.71,511.00 304.45,511.00 305.19,511.00 305.93,511.00 306.67,511.00 307.41,511.00 308.15,511.00 308.89,511.00 309.63,511.00 310.38,511.00 311.12,511.00 311.86,511.00 312.60,511.00 313.34,511.00 314.08,511.00 314.82,511.00 315.56,511.00 316.31,511.00 317.05,511.00 317.79,511.00 318.53,511.00 319.27,511.00 320.01,510.98 320.75,510.94 321.49,510.89 322.23,510.67 322.98,510.25 323.72,509.72 324.46,509.09 325.20,508.23 325.94,507.17 326.68,505.99 327.42,504.68 328.16,503.12 328.90,501.42 329.65,499.65 330.39,497.75 331.13,495.73 331.87,493.65 332.61,491.55 333.35,489.36 334.09,487.14 334.83,484.92 335.57,482.73 336.32,480.61 337.06,478.53 337.80,476.49 338.54,474.47 339.28,472.46 340.02,470.44 340.76,468.42 341.50,466.39 342.24,464.38 342.99,462.36 343.73,460.36 344.47,458.36 345.21,456.38 345.95,454.39 346.69,452.39 347.43,450.40 348.17,448.43 348.92,446.49 349.66,444.59 350.40,442.76 351.14,440.97 351.88,439.21 352.62,437.49 353.36,435.80 354.10,434.16 354.84,432.57 355.59,431.03 356.33,429.51 357.07,428.02 357.81,426.56 358.55,425.15 359.29,423.81 360.03,422.55 360.77,421.39 361.51,420.31 362.26,419.30 363.00,418.34 363.74,417.42 364.48,416.53 365.22,415.66 365.96,414.81 366.70,413.96 367.44,413.10 368.18,412.25 368.93,411.40 369.67,410.57 370.41,409.75 371.15,408.95 371.89,408.17 372.63,407.43 373.37,406.71 374.11,406.03 374.85,405.37 375.60,404.72 376.34,404.10 377.08,403.49 377.82,402.89 378.56,402.31 379.30,401.75 380.04,401.20 380.78,400.67 381.53,400.14 382.27,399.63 383.01,399.12 383.75,398.61 384.49,398.12 385.23,397.63 385.97,397.16 386.71,396.69 387.45,396.24 388.20,395.80 388.94,395.37 389.68,394.95 390.42,394.55 391.16,394.17 391.90,393.80 392.64,393.44 393.38,393.09 394.12,392.75 394.87,392.42 395.61,392.09 396.35,391.78 397.09,391.47 397.83,391.17 398.57,390.89 399.31,390.61 400.05,390.34 400.79,390.09 401.54,389.85 402.28,389.61 403.02,389.39 403.76,389.17 404.50,388.95 405.24,388.75 405.98,388.54 406.72,388.35 407.46,388.16 408.21,387.98 408.95,387.80 409.69,387.64 410.43,387.48 411.17,387.33 411.91,387.19 412.65,387.06 413.39,386.93 414.14,386.80 414.88,386.68 415.62,386.56 416.36,386.45 417.10,386.34 417.84,386.24 418.58,386.14 419.32,386.05 420.06,385.96 420.81,385.88 421.55,385.80 422.29,385.73 423.03,385.67 423.77,385.61 424.51,385.56 425.25,385.50 425.99,385.45 426.73,385.40 427.48,385.35 428.22,385.30 428.96,385.26 429.70,385.22 430.44,385.19 431.18,385.16 431.92,385.13 432.66,385.11 433.40,385.09 434.15,385.08 434.89,385.06 435.63,385.05 436.37,385.03 437.11,385.02 437.85,385.01 438.59,385.01 439.33,385.00 440.07,385.00 440.82,385.00 441.56,385.00 442.30,385.00 443.04,385.00 443.78,385.00 444.52,385.00 445.26,385.00 446.00,385.00 446.75,385.00 447.49,385.00 448.23,385.00 448.97,385.00 449.71,385.00 450.45,385.00 451.19,385.00 451.93,385.00 452.67,385.00 453.42,385.00 454.16,385.00 454.90,385.00 455.64,385.00 456.38,385.00 457.12,385.00 457.86,385.00 458.60,385.00 459.34,385.00 460.09,385.00 460.83,385.00 461.57,385.00 462.31,385.00 463.05,385.00 463.79,385.00 464.53,385.00 465.27,385.00 466.01,385.00 466.76,385.00 467.50,385.00 468.24,385.00 468.98,385.00 469.72,385.00 470.46,385.01 471.20,385.01 471.94,385.01 472.68,385.01 473.43,385.01 474.17,385.01 474.91,385.01 475.65,385.01 476.39,385.01 477.13,385.01 477.87,385.01 478.61,385.01 479.36,385.01 480.10,385.01 480.84,385.01 481.58,385.01 482.32,385.01 483.06,385.01 483.80,385.02 484.54,385.02 485.28,385.02 486.03,385.02 486.77,385.02 487.51,385.02 488.25,385.02 488.99,385.02 489.73,385.02 490.47,385.02 491.21,385.02 491.95,385.03 492.70,385.03 493.44,385.03 494.18,385.03 494.92,385.03 495.66,385.03 496.40,385.03 497.14,385.03 497.88,385.04 498.62,385.04 499.37,385.04 500.11,385.04 500.85,385.04 501.59,385.04 502.33,385.04 503.07,385.05 503.81,385.05 504.55,385.05 505.29,385.05 506.04,385.05 506.78,385.05 507.52,385.06 508.26,385.06 509.00,385.06 509.74,385.06 510.48,385.06 511.22,385.07 511.97,385.07 512.71,385.07 513.45,385.07 514.19,385.08 514.93,385.08 515.67,385.08 516.41,385.08 517.15,385.08 517.89,385.09 518.64,385.09 519.38,385.09 520.12,385.09 520.86,385.10 521.60,385.10" fill="none" stroke="#1a1aff" stroke-width="1.25" stroke-linejoin="round" stroke-linecap="round" />
<polyline points="300.00,511.00 300.74,511.00 301.48,511.00 302.22,511.00 302.96,511.00 303.71,511.00 304.45,511.00 305.19,511.00 305.93,511.00 306.67,511.00 307.41,511.00 308.15,511.00 308.89,511.00 309.63,511.00 310.38,511.00 311.12,511.00 311.86,511.00 312.60,511.00 313.34,511.00 314.08,511.00 314.82,511.00 315.56,511.00 316.31,511.00 317.05,511.00 317.79,511.00 318.53,511.00 319.27,510.98 320.01,510.95 320.75,510.91 321.49,510.53 322.23,509.46 322.98,507.93 323.72,505.42 324.46,501.97 325.20,496.90 325.94,490.56 326.68,483.55 327.42,475.53 328.16,465.94 328.90,456.19 329.65,447.61 330.39,439.67 331.13,432.20 331.87,425.43 332.61,419.41 333.35,413.80 334.09,408.81 334.83,404.63 335.57,401.12 336.32,398.04 337.06,395.42 337.80,393.28 338.54,391.36 339.28,389.62 340.02,388.09 340.76,386.80 341.50,385.80 342.24,384.98 342.99,384.29 343.73,383.81 344.47,383.56 345.21,383.37 345.95,383.24 346.69,383.20 347.43,383.34 348.17,383.65 348.92,384.06 349.66,384.50 350.40,385.07 351.14,385.79 351.88,386.63 352.62,387.55 353.36,388.52 354.10,389.63 354.84,390.86 355.59,392.19 356.33,393.59 357.07,395.03 357.81,396.48 358.55,397.91 359.29,399.30 360.03,400.65 360.77,402.00 361.51,403.36 362.26,404.72 363.00,406.08 363.74,407.46 364.48,408.84 365.22,410.23 365.96,411.63 366.70,413.04 367.44,414.46 368.18,415.91 368.93,417.39 369.67,418.88 370.41,420.37 371.15,421.87 371.89,423.35 372.63,424.82 373.37,426.26 374.11,427.68 374.85,429.09 375.60,430.50 376.34,431.89 377.08,433.27 377.82,434.65 378.56,436.01 379.30,437.35 380.04,438.68 380.78,440.00 381.53,441.29 382.27,442.57 383.01,443.84 383.75,445.10 384.49,446.35 385.23,447.58 385.97,448.80 386.71,450.00 387.45,451.20 388.20,452.38 388.94,453.54 389.68,454.70 390.42,455.84 391.16,456.98 391.90,458.10 392.64,459.21 393.38,460.31 394.12,461.39 394.87,462.47 395.61,463.52 396.35,464.57 397.09,465.60 397.83,466.62 398.57,467.63 399.31,468.63 400.05,469.61 400.79,470.59 401.54,471.55 402.28,472.50 403.02,473.44 403.76,474.37 404.50,475.28 405.24,476.18 405.98,477.07 406.72,477.96 407.46,478.83 408.21,479.70 408.95,480.55 409.69,481.38 410.43,482.21 411.17,483.01 411.91,483.79 412.65,484.56 413.39,485.31 414.14,486.05 414.88,486.78 415.62,487.50 416.36,488.20 417.10,488.89 417.84,489.56 418.58,490.21 419.32,490.85 420.06,491.47 420.81,492.07 421.55,492.66 422.29,493.23 423.03,493.80 423.77,494.34 424.51,494.88 425.25,495.41 425.99,495.92 426.73,496.43 427.48,496.92 428.22,497.41 428.96,497.88 429.70,498.35 430.44,498.81 431.18,499.26 431.92,499.70 432.66,500.14 433.40,500.56 434.15,500.97 434.89,501.37 435.63,501.77 436.37,502.15 437.11,502.52 437.85,502.88 438.59,503.23 439.33,503.57 440.07,503.91 440.82,504.24 441.56,504.57 442.30,504.89 443.04,505.21 443.78,505.53 444.52,505.84 445.26,506.14 446.00,506.43 446.75,506.70 447.49,506.96 448.23,507.22 448.97,507.47 449.71,507.71 450.45,507.94 451.19,508.16 451.93,508.37 452.67,508.57 453.42,508.75 454.16,508.93 454.90,509.10 455.64,509.26 456.38,509.42 457.12,509.57 457.86,509.70 458.60,509.82 459.34,509.94 460.09,510.04 460.83,510.14 461.57,510.24 462.31,510.33 463.05,510.41 463.79,510.49 464.53,510.56 465.27,510.63 466.01,510.69 466.76,510.74 467.50,510.79 468.24,510.85 468.98,510.89 469.72,510.94 470.46,510.97 471.20,510.99 471.94,511.00 472.68,511.00 473.43,511.00 474.17,511.00 474.91,511.00 475.65,511.00 476.39,511.00 477.13,511.00 477.87,511.00 478.61,511.00 479.36,511.00 480.10,511.00 480.84,511.00 481.58,511.00 482.32,511.00 483.06,511.00 483.80,511.00 484.54,511.00 485.28,511.00 486.03,511.00 486.77,511.00 487.51,511.00 488.25,511.00 488.99,511.00 489.73,511.00 490.47,511.00 491.21,511.00 491.95,511.00 492.70,511.00 493.44,511.00 494.18,511.00 494.92,511.00 495.66,511.00 496.40,511.00 497.14,511.00 497.88,511.00 498.62,511.00 499.37,511.00 500.11,511.00 500.85,511.00 501.59,511.00 502.33,511.00 503.07,511.00 503.81,511.00 504.55,511.00 505.29,511.00 506.04,511.00 506.78,511.00 507.52,511.00 508.26,511.00 509.00,511.00 509.74,511.00 510.48,511.00 511.22,511.00 511.97,511.00 512.71,511.00 513.45,511.00 514.19,511.00 514.93,511.00 515.67,511.00 516.41,511.00 517.15,511.00 517.89,511.00 518.64,511.00 519.38,511.00 520.12,511.00 520.86,511.00 521.60,511.00" fill="none" stroke="#ff1a2e" stroke-width="1.25" stroke-linejoin="round" stroke-linecap="round" />
<line x1="296" y1="511.00" x2="300" y2="511.00" stroke="#111" stroke-width="1"/>
<text x="294.8" y="512.9" text-anchor="end" font-family='"Liberation Sans", sans-serif' font-weight="bold" font-size="5.3" fill="#111" stroke="#111" stroke-width="0.15">0</text>
<line x1="296" y1="488.00" x2="300" y2="488.00" stroke="#111" stroke-width="1"/>
<text x="294.8" y="489.9" text-anchor="end" font-family='"Liberation Sans", sans-serif' font-weight="bold" font-size="5.3" fill="#111" stroke="#111" stroke-width="0.15">2</text>
<line x1="296" y1="465.00" x2="300" y2="465.00" stroke="#111" stroke-width="1"/>
<text x="294.8" y="466.9" text-anchor="end" font-family='"Liberation Sans", sans-serif' font-weight="bold" font-size="5.3" fill="#111" stroke="#111" stroke-width="0.15">4</text>
<line x1="296" y1="442.00" x2="300" y2="442.00" stroke="#111" stroke-width="1"/>
<text x="294.8" y="443.9" text-anchor="end" font-family='"Liberation Sans", sans-serif' font-weight="bold" font-size="5.3" fill="#111" stroke="#111" stroke-width="0.15">6</text>
<line x1="296" y1="419.00" x2="300" y2="419.00" stroke="#111" stroke-width="1"/>
<text x="294.8" y="420.9" text-anchor="end" font-family='"Liberation Sans", sans-serif' font-weight="bold" font-size="5.3" fill="#111" stroke="#111" stroke-width="0.15">8</text>
<line x1="296" y1="396.00" x2="300" y2="396.00" stroke="#111" stroke-width="1"/>
<text x="294.8" y="397.9" text-anchor="end" font-family='"Liberation Sans", sans-serif' font-weight="bold" font-size="5.3" fill="#111" stroke="#111" stroke-width="0.15">10</text>
<line x1="296" y1="373.00" x2="300" y2="373.00" stroke="#111" stroke-width="1"/>
<text x="294.8" y="374.9" text-anchor="end" font-family='"Liberation Sans", sans-serif' font-weight="bold" font-size="5.3" fill="#111" stroke="#111" stroke-width="0.15">12</text>
<line x1="300.00" y1="511" x2="300.00" y2="514.6" stroke="#111" stroke-width="1.1"/>
<text x="300.0" y="521.7" text-anchor="middle" font-family='"Liberation Sans", sans-serif' font-weight="bold" font-size="5.3" fill="#111" stroke="#111" stroke-width="0.15">0</text>
<line x1="344.32" y1="511" x2="344.32" y2="514.6" stroke="#111" stroke-width="1.1"/>
<text x="344.3" y="521.7" text-anchor="middle" font-family='"Liberation Sans", sans-serif' font-weight="bold" font-size="5.3" fill="#111" stroke="#111" stroke-width="0.15">200</text>
<line x1="388.64" y1="511" x2="388.64" y2="514.6" stroke="#111" stroke-width="1.1"/>
<text x="388.6" y="521.7" text-anchor="middle" font-family='"Liberation Sans", sans-serif' font-weight="bold" font-size="5.3" fill="#111" stroke="#111" stroke-width="0.15">400</text>
<line x1="432.96" y1="511" x2="432.96" y2="514.6" stroke="#111" stroke-width="1.1"/>
<text x="433.0" y="521.7" text-anchor="middle" font-family='"Liberation Sans", sans-serif' font-weight="bold" font-size="5.3" fill="#111" stroke="#111" stroke-width="0.15">600</text>
<line x1="477.28" y1="511" x2="477.28" y2="514.6" stroke="#111" stroke-width="1.1"/>
<text x="477.3" y="521.7" text-anchor="middle" font-family='"Liberation Sans", sans-serif' font-weight="bold" font-size="5.3" fill="#111" stroke="#111" stroke-width="0.15">800</text>
<line x1="521.60" y1="511" x2="521.60" y2="514.6" stroke="#111" stroke-width="1.1"/>
<text x="521.6" y="521.7" text-anchor="middle" font-family='"Liberation Sans", sans-serif' font-weight="bold" font-size="5.3" fill="#111" stroke="#111" stroke-width="0.15">1000</text>
<line x1="521.6" y1="511.00" x2="526.5" y2="511.00" stroke="#111" stroke-width="1.1"/>
<text x="527.4" y="512.9" text-anchor="start" font-family='"Liberation Sans", sans-serif' font-weight="bold" font-size="5.3" fill="#111" stroke="#111" stroke-width="0.15">0</text>
<line x1="521.6" y1="485.88" x2="526.5" y2="485.88" stroke="#111" stroke-width="1.1"/>
<text x="527.4" y="487.8" text-anchor="start" font-family='"Liberation Sans", sans-serif' font-weight="bold" font-size="5.3" fill="#111" stroke="#111" stroke-width="0.15">20</text>
<line x1="521.6" y1="460.76" x2="526.5" y2="460.76" stroke="#111" stroke-width="1.1"/>
<text x="527.4" y="462.7" text-anchor="start" font-family='"Liberation Sans", sans-serif' font-weight="bold" font-size="5.3" fill="#111" stroke="#111" stroke-width="0.15">40</text>
<line x1="521.6" y1="435.64" x2="526.5" y2="435.64" stroke="#111" stroke-width="1.1"/>
<text x="527.4" y="437.5" text-anchor="start" font-family='"Liberation Sans", sans-serif' font-weight="bold" font-size="5.3" fill="#111" stroke="#111" stroke-width="0.15">60</text>
<line x1="521.6" y1="410.52" x2="526.5" y2="410.52" stroke="#111" stroke-width="1.1"/>
<text x="527.4" y="412.4" text-anchor="start" font-family='"Liberation Sans", sans-serif' font-weight="bold" font-size="5.3" fill="#111" stroke="#111" stroke-width="0.15">80</text>
<line x1="521.6" y1="385.40" x2="526.5" y2="385.40" stroke="#111" stroke-width="1.1"/>
<text x="527.4" y="387.3" text-anchor="start" font-family='"Liberation Sans", sans-serif' font-weight="bold" font-size="5.3" fill="#111" stroke="#111" stroke-width="0.15">100</text>
<text x="287.8" y="444.8" text-anchor="middle" font-family='"Liberation Sans", sans-serif' font-weight="normal" font-size="10.65" fill="#111" transform="rotate(-90 287.8 444.8)" stroke="#111" stroke-width="0.22">Frequency (%)</text>
<text x="537.9" y="445.0" text-anchor="middle" font-family='"Liberation Sans", sans-serif' font-weight="normal" font-size="10.6" fill="#111" transform="rotate(90 537.9 445.0)" stroke="#111" stroke-width="0.22">Undersize (%)</text>
<text x="412.1" y="535.0" text-anchor="middle" font-family='"Liberation Sans", sans-serif' font-weight="normal" font-size="10.3" fill="#111" stroke="#111" stroke-width="0.22">Size (nm)</text>
<rect x="298.9" y="372.7" width="14" height="15.1" fill="#0a0a0a"/>
<text x="305.9" y="383.7" text-anchor="middle" font-family='"Liberation Sans", sans-serif' font-weight="bold" font-size="7.5" fill="#fff">f)</text>
</svg>
</body></html>
